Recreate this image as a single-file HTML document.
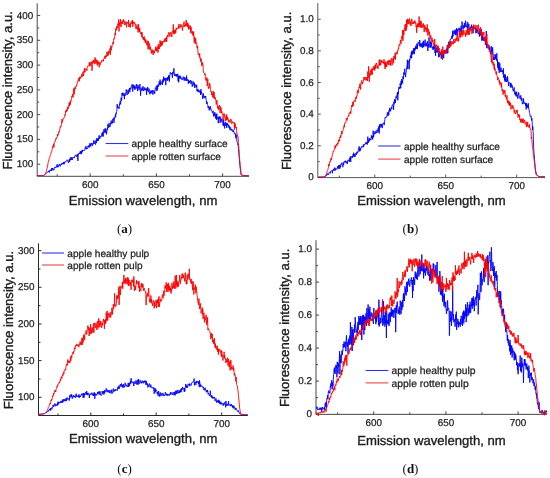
<!DOCTYPE html>
<html><head><meta charset="utf-8"><style>
html,body{margin:0;padding:0;background:#fff;}
svg{display:block;}
text{text-rendering:geometricPrecision;}
.t{font-family:"Liberation Sans",Arial,sans-serif;font-size:9.9px;fill:#1e1e1e;stroke:#1e1e1e;stroke-width:0.25px;}
.T{font-family:"Liberation Sans",Arial,sans-serif;font-size:13.1px;fill:#1c1c1c;stroke:#1c1c1c;stroke-width:0.35px;}
.L{font-family:"Liberation Sans",Arial,sans-serif;font-size:10.1px;fill:#1e1e1e;stroke:#1e1e1e;stroke-width:0.25px;}
.cap{font-family:"Liberation Serif","Times New Roman",serif;font-size:13px;fill:#111;}
</style></head><body>
<svg width="550" height="478" viewBox="0 0 550 478">
<rect width="550" height="478" fill="#fff"/>
<path d="M37.2,3.3V176.3H249.0" fill="none" stroke="#484848" stroke-width="1.0"/>
<path d="M90.2,176.3v-3" stroke="#484848" stroke-width="1"/>
<text x="90.2" y="188.0" class="t" text-anchor="middle">600</text>
<path d="M156.4,176.3v-3" stroke="#484848" stroke-width="1"/>
<text x="156.4" y="188.0" class="t" text-anchor="middle">650</text>
<path d="M222.6,176.3v-3" stroke="#484848" stroke-width="1"/>
<text x="222.6" y="188.0" class="t" text-anchor="middle">700</text>
<path d="M57.2,176.3v-2" stroke="#484848" stroke-width="1"/>
<path d="M123.3,176.3v-2" stroke="#484848" stroke-width="1"/>
<path d="M189.5,176.3v-2" stroke="#484848" stroke-width="1"/>
<path d="M37.2,164.2h3" stroke="#484848" stroke-width="1"/>
<text x="33.2" y="167.2" class="t" text-anchor="end">100</text>
<path d="M37.2,139.4h3" stroke="#484848" stroke-width="1"/>
<text x="33.2" y="142.4" class="t" text-anchor="end">150</text>
<path d="M37.2,114.6h3" stroke="#484848" stroke-width="1"/>
<text x="33.2" y="117.6" class="t" text-anchor="end">200</text>
<path d="M37.2,89.9h3" stroke="#484848" stroke-width="1"/>
<text x="33.2" y="92.9" class="t" text-anchor="end">250</text>
<path d="M37.2,65.1h3" stroke="#484848" stroke-width="1"/>
<text x="33.2" y="68.1" class="t" text-anchor="end">300</text>
<path d="M37.2,40.3h3" stroke="#484848" stroke-width="1"/>
<text x="33.2" y="43.3" class="t" text-anchor="end">350</text>
<path d="M37.2,15.5h3" stroke="#484848" stroke-width="1"/>
<text x="33.2" y="18.5" class="t" text-anchor="end">400</text>
<path d="M37.2,151.8h2" stroke="#484848" stroke-width="1"/>
<path d="M37.2,127.0h2" stroke="#484848" stroke-width="1"/>
<path d="M37.2,102.2h2" stroke="#484848" stroke-width="1"/>
<path d="M37.2,77.5h2" stroke="#484848" stroke-width="1"/>
<path d="M37.2,52.7h2" stroke="#484848" stroke-width="1"/>
<path d="M37.2,27.9h2" stroke="#484848" stroke-width="1"/>
<text x="143.1" y="204.8" class="T" text-anchor="middle">Emission wavelength, nm</text>
<text transform="translate(12.0,90.4) rotate(-90)" class="T" text-anchor="middle">Fluorescence intensity, a.u.</text>
<text x="124.6" y="232.5" class="cap" text-anchor="middle">(<tspan font-weight="bold">a</tspan>)</text>
<path d="M317.8,3.1V177.6H545.2" fill="none" stroke="#585858" stroke-width="1.0"/>
<path d="M374.8,177.6v-3" stroke="#585858" stroke-width="1"/>
<text x="374.8" y="189.3" class="t" text-anchor="middle">600</text>
<path d="M445.7,177.6v-3" stroke="#585858" stroke-width="1"/>
<text x="445.7" y="189.3" class="t" text-anchor="middle">650</text>
<path d="M516.7,177.6v-3" stroke="#585858" stroke-width="1"/>
<text x="516.7" y="189.3" class="t" text-anchor="middle">700</text>
<path d="M339.3,177.6v-2" stroke="#585858" stroke-width="1"/>
<path d="M410.2,177.6v-2" stroke="#585858" stroke-width="1"/>
<path d="M481.2,177.6v-2" stroke="#585858" stroke-width="1"/>
<path d="M317.8,177.4h3" stroke="#585858" stroke-width="1"/>
<text x="313.8" y="180.4" class="t" text-anchor="end">0</text>
<path d="M317.8,145.8h3" stroke="#585858" stroke-width="1"/>
<text x="313.8" y="148.8" class="t" text-anchor="end">0.2</text>
<path d="M317.8,114.1h3" stroke="#585858" stroke-width="1"/>
<text x="313.8" y="117.1" class="t" text-anchor="end">0.4</text>
<path d="M317.8,82.5h3" stroke="#585858" stroke-width="1"/>
<text x="313.8" y="85.5" class="t" text-anchor="end">0.6</text>
<path d="M317.8,50.8h3" stroke="#585858" stroke-width="1"/>
<text x="313.8" y="53.8" class="t" text-anchor="end">0.8</text>
<path d="M317.8,19.2h3" stroke="#585858" stroke-width="1"/>
<text x="313.8" y="22.2" class="t" text-anchor="end">1.0</text>
<path d="M317.8,161.6h2" stroke="#585858" stroke-width="1"/>
<path d="M317.8,129.9h2" stroke="#585858" stroke-width="1"/>
<path d="M317.8,98.3h2" stroke="#585858" stroke-width="1"/>
<path d="M317.8,66.7h2" stroke="#585858" stroke-width="1"/>
<path d="M317.8,35.0h2" stroke="#585858" stroke-width="1"/>
<text x="431.5" y="204.6" class="T" text-anchor="middle">Emission wavelength, nm</text>
<text transform="translate(290.5,90.9) rotate(-90)" class="T" text-anchor="middle">Fluorescence intensity, a.u.</text>
<text x="410.5" y="232.5" class="cap" text-anchor="middle">(<tspan font-weight="bold">b</tspan>)</text>
<path d="M38.5,243.4V415.5H247.8" fill="none" stroke="#282828" stroke-width="1.0"/>
<path d="M90.8,415.5v-3" stroke="#282828" stroke-width="1"/>
<text x="90.8" y="427.2" class="t" text-anchor="middle">600</text>
<path d="M156.2,415.5v-3" stroke="#282828" stroke-width="1"/>
<text x="156.2" y="427.2" class="t" text-anchor="middle">650</text>
<path d="M221.7,415.5v-3" stroke="#282828" stroke-width="1"/>
<text x="221.7" y="427.2" class="t" text-anchor="middle">700</text>
<path d="M58.0,415.5v-2" stroke="#282828" stroke-width="1"/>
<path d="M123.5,415.5v-2" stroke="#282828" stroke-width="1"/>
<path d="M188.9,415.5v-2" stroke="#282828" stroke-width="1"/>
<path d="M38.5,397.3h3" stroke="#282828" stroke-width="1"/>
<text x="34.5" y="400.3" class="t" text-anchor="end">100</text>
<path d="M38.5,360.6h3" stroke="#282828" stroke-width="1"/>
<text x="34.5" y="363.6" class="t" text-anchor="end">150</text>
<path d="M38.5,324.0h3" stroke="#282828" stroke-width="1"/>
<text x="34.5" y="327.0" class="t" text-anchor="end">200</text>
<path d="M38.5,287.3h3" stroke="#282828" stroke-width="1"/>
<text x="34.5" y="290.3" class="t" text-anchor="end">250</text>
<path d="M38.5,250.7h3" stroke="#282828" stroke-width="1"/>
<text x="34.5" y="253.7" class="t" text-anchor="end">300</text>
<path d="M38.5,379.0h2" stroke="#282828" stroke-width="1"/>
<path d="M38.5,342.3h2" stroke="#282828" stroke-width="1"/>
<path d="M38.5,305.7h2" stroke="#282828" stroke-width="1"/>
<path d="M38.5,269.0h2" stroke="#282828" stroke-width="1"/>
<text x="143.2" y="443.3" class="T" text-anchor="middle">Emission wavelength, nm</text>
<text transform="translate(12.7,330.1) rotate(-90)" class="T" text-anchor="middle">Fluorescence intensity, a.u.</text>
<text x="124.6" y="472.8" class="cap" text-anchor="middle">(<tspan font-weight="bold">c</tspan>)</text>
<path d="M316.0,240.2V414.35H547.0" fill="none" stroke="#444444" stroke-width="1.0"/>
<path d="M373.7,414.35v-3" stroke="#444444" stroke-width="1"/>
<text x="373.7" y="426.1" class="t" text-anchor="middle">600</text>
<path d="M445.9,414.35v-3" stroke="#444444" stroke-width="1"/>
<text x="445.9" y="426.1" class="t" text-anchor="middle">650</text>
<path d="M518.1,414.35v-3" stroke="#444444" stroke-width="1"/>
<text x="518.1" y="426.1" class="t" text-anchor="middle">700</text>
<path d="M337.6,414.35v-2" stroke="#444444" stroke-width="1"/>
<path d="M409.8,414.35v-2" stroke="#444444" stroke-width="1"/>
<path d="M482.0,414.35v-2" stroke="#444444" stroke-width="1"/>
<path d="M316.0,414.1h3" stroke="#444444" stroke-width="1"/>
<text x="312.0" y="417.1" class="t" text-anchor="end">0</text>
<path d="M316.0,381.1h3" stroke="#444444" stroke-width="1"/>
<text x="312.0" y="384.1" class="t" text-anchor="end">0.2</text>
<path d="M316.0,348.1h3" stroke="#444444" stroke-width="1"/>
<text x="312.0" y="351.1" class="t" text-anchor="end">0.4</text>
<path d="M316.0,315.1h3" stroke="#444444" stroke-width="1"/>
<text x="312.0" y="318.1" class="t" text-anchor="end">0.6</text>
<path d="M316.0,282.1h3" stroke="#444444" stroke-width="1"/>
<text x="312.0" y="285.1" class="t" text-anchor="end">0.8</text>
<path d="M316.0,249.1h3" stroke="#444444" stroke-width="1"/>
<text x="312.0" y="252.1" class="t" text-anchor="end">1.0</text>
<path d="M316.0,397.6h2" stroke="#444444" stroke-width="1"/>
<path d="M316.0,364.6h2" stroke="#444444" stroke-width="1"/>
<path d="M316.0,331.6h2" stroke="#444444" stroke-width="1"/>
<path d="M316.0,298.6h2" stroke="#444444" stroke-width="1"/>
<path d="M316.0,265.6h2" stroke="#444444" stroke-width="1"/>
<text x="431.5" y="444.6" class="T" text-anchor="middle">Emission wavelength, nm</text>
<text transform="translate(288.6,327.9) rotate(-90)" class="T" text-anchor="middle">Fluorescence intensity, a.u.</text>
<text x="410.5" y="472.8" class="cap" text-anchor="middle">(<tspan font-weight="bold">d</tspan>)</text>
<path d="M37.1,175.5 37.4,175.5 37.7,175.5 38.0,175.5 38.3,175.5 38.6,175.5 38.9,175.5 39.2,175.5 39.5,175.5 39.8,175.5 40.1,175.5 40.4,175.5 40.7,175.5 41.0,175.5 41.3,175.5 41.6,175.5 41.9,175.5 42.2,175.5 42.5,175.5 42.8,175.5 43.1,175.5 43.4,175.5 43.7,175.5 44.0,175.5 44.3,175.2 44.6,174.9 44.9,174.6 45.2,174.2 45.5,173.8 45.8,173.4 46.1,173.5 46.4,173.0 46.7,173.0 47.0,172.7 47.3,172.3 47.6,172.2 47.9,171.8 48.2,172.2 48.5,170.9 48.8,171.1 49.1,171.3 49.4,172.3 49.7,170.2 50.0,169.8 50.3,170.0 50.6,171.0 50.9,169.9 51.2,171.0 51.5,168.2 51.8,170.5 52.1,170.2 52.4,168.0 52.7,169.1 53.0,169.8 53.3,168.7 53.6,169.3 53.9,170.3 54.2,168.3 54.5,167.7 54.8,167.1 55.1,168.1 55.4,167.2 55.7,167.0 56.0,166.9 56.3,167.4 56.6,165.7 56.9,165.1 57.2,164.2 57.5,167.2 57.8,166.1 58.1,167.2 58.4,165.7 58.7,164.9 59.0,165.8 59.3,165.2 59.6,164.0 59.9,164.1 60.2,166.4 60.5,165.0 60.8,164.9 61.1,164.1 61.4,163.6 61.7,164.9 62.0,163.8 62.3,163.0 62.6,163.5 62.9,162.6 63.2,163.5 63.5,164.2 63.8,162.2 64.1,164.2 64.4,162.1 64.7,162.7 65.0,161.6 65.3,162.0 65.6,162.1 65.9,161.5 66.2,161.1 66.5,161.0 66.8,160.7 67.1,159.8 67.4,160.9 67.7,161.4 68.0,161.7 68.3,161.3 68.6,162.9 68.9,160.6 69.2,159.6 69.5,161.8 69.8,158.6 70.1,160.5 70.4,158.8 70.7,159.4 71.0,157.0 71.3,159.8 71.6,158.5 71.9,157.4 72.2,160.0 72.5,158.9 72.8,158.0 73.1,157.0 73.4,157.5 73.7,157.2 74.0,158.0 74.3,157.9 74.6,156.1 74.9,156.1 75.2,155.9 75.5,154.9 75.8,155.5 76.1,155.9 76.4,156.5 76.7,157.1 77.0,154.5 77.3,155.8 77.6,154.4 77.9,160.9 78.2,154.4 78.5,154.8 78.8,153.0 79.1,152.9 79.4,153.8 79.7,152.9 80.0,153.5 80.3,151.1 80.6,153.4 80.9,151.4 81.2,154.2 81.5,151.7 81.8,153.1 82.1,149.9 82.4,151.8 82.7,150.1 83.0,150.3 83.3,150.7 83.6,150.1 83.9,150.5 84.2,150.9 84.5,150.5 84.8,149.4 85.1,147.7 85.4,148.1 85.7,148.6 86.0,146.1 86.3,149.3 86.6,147.9 86.9,147.7 87.2,148.9 87.5,148.3 87.8,147.6 88.1,145.8 88.4,147.2 88.7,147.0 89.0,145.3 89.3,147.5 89.6,146.6 89.9,143.3 90.2,145.6 90.5,143.7 90.8,146.5 91.1,145.8 91.4,143.2 91.7,143.2 92.0,144.3 92.3,143.6 92.6,145.7 92.9,144.5 93.2,142.9 93.5,143.8 93.8,140.3 94.1,143.1 94.4,143.6 94.7,142.0 95.0,141.1 95.3,142.6 95.6,144.6 95.9,141.7 96.2,139.7 96.5,142.9 96.8,138.2 97.1,141.0 97.4,139.2 97.7,140.9 98.0,138.2 98.3,140.8 98.6,139.0 98.9,136.0 99.2,135.3 99.5,137.2 99.8,139.0 100.1,137.1 100.4,136.7 100.7,135.9 101.0,136.9 101.3,136.0 101.6,135.5 101.9,133.3 102.2,136.1 102.5,135.9 102.8,131.7 103.1,136.6 103.4,133.9 103.7,131.7 104.0,129.2 104.3,132.8 104.6,132.4 104.9,130.3 105.2,128.2 105.5,132.5 105.8,129.5 106.1,129.4 106.4,134.4 106.7,133.0 107.0,130.8 107.3,128.2 107.6,129.7 107.9,124.4 108.2,128.0 108.5,126.1 108.8,124.8 109.1,123.0 109.4,127.1 109.7,125.9 110.0,125.6 110.3,126.4 110.6,123.0 110.9,121.9 111.2,120.5 111.5,122.6 111.8,124.1 112.1,122.0 112.4,123.0 112.7,119.3 113.0,120.1 113.3,119.1 113.6,117.8 113.9,122.9 114.2,120.7 114.5,117.4 114.8,116.9 115.1,117.7 115.4,114.4 115.7,116.8 116.0,112.9 116.3,113.6 116.6,111.6 116.9,110.2 117.2,104.2 117.5,108.0 117.8,105.8 118.1,107.7 118.4,107.4 118.7,107.1 119.0,108.8 119.3,106.6 119.6,103.7 119.9,104.5 120.2,101.1 120.5,104.2 120.8,101.8 121.1,97.7 121.4,100.7 121.7,100.0 122.0,93.0 122.3,95.7 122.6,95.5 122.9,92.6 123.2,93.8 123.5,93.7 123.8,96.0 124.1,95.3 124.4,99.2 124.7,93.5 125.0,96.0 125.3,93.8 125.6,93.9 125.9,92.9 126.2,89.5 126.5,91.3 126.8,93.8 127.1,95.0 127.4,93.0 127.7,92.6 128.0,89.9 128.3,93.9 128.6,93.4 128.9,89.7 129.2,90.2 129.5,88.1 129.8,92.2 130.1,89.9 130.4,87.7 130.7,89.1 131.0,88.8 131.3,86.9 131.6,85.3 131.9,85.2 132.2,84.4 132.5,88.4 132.8,91.5 133.1,84.5 133.4,87.8 133.7,88.3 134.0,85.8 134.3,87.9 134.6,85.6 134.9,89.8 135.2,86.5 135.5,87.7 135.8,88.7 136.1,86.6 136.4,84.0 136.7,86.2 137.0,88.4 137.3,86.8 137.6,91.1 137.9,84.8 138.2,87.0 138.5,87.9 138.8,86.6 139.1,90.1 139.4,86.4 139.7,85.0 140.0,84.1 140.3,89.3 140.6,95.6 140.9,89.3 141.2,88.5 141.5,90.7 141.8,90.2 142.1,87.4 142.4,88.7 142.7,90.4 143.0,86.3 143.3,89.5 143.6,91.1 143.9,90.8 144.2,88.8 144.5,89.9 144.8,87.4 145.1,89.7 145.4,88.7 145.7,90.1 146.0,89.2 146.3,90.8 146.6,94.8 146.9,88.2 147.2,91.1 147.5,87.2 147.8,87.0 148.1,90.9 148.4,91.3 148.7,92.2 149.0,88.5 149.3,91.6 149.6,92.1 149.9,94.3 150.2,91.9 150.5,93.2 150.8,90.6 151.1,91.9 151.4,91.3 151.7,93.3 152.0,90.0 152.3,90.2 152.6,92.6 152.9,94.7 153.2,92.0 153.5,91.7 153.8,90.3 154.1,92.8 154.4,91.7 154.7,93.7 155.0,90.9 155.3,88.1 155.6,88.4 155.9,87.3 156.2,86.4 156.5,90.6 156.8,89.4 157.1,85.3 157.4,90.4 157.7,87.2 158.0,84.6 158.3,86.7 158.6,85.5 158.9,83.9 159.2,81.5 159.5,84.9 159.8,85.1 160.1,79.6 160.4,85.1 160.7,85.0 161.0,82.7 161.3,83.5 161.6,82.6 161.9,81.3 162.2,81.9 162.5,84.8 162.8,79.4 163.1,82.3 163.4,81.9 163.7,76.6 164.0,80.3 164.3,78.2 164.6,79.0 164.9,80.4 165.2,80.7 165.5,78.2 165.8,85.2 166.1,78.3 166.4,79.3 166.7,78.4 167.0,77.8 167.3,80.7 167.6,77.2 167.9,80.3 168.2,79.7 168.5,75.4 168.8,79.0 169.1,75.6 169.4,81.7 169.7,75.6 170.0,74.3 170.3,72.3 170.6,73.2 170.9,74.4 171.2,73.5 171.5,73.0 171.8,73.9 172.1,74.8 172.4,77.8 172.7,71.9 173.0,73.9 173.3,73.1 173.6,72.0 173.9,68.3 174.2,73.0 174.5,76.0 174.8,74.3 175.1,73.8 175.4,76.1 175.7,75.6 176.0,74.8 176.3,76.1 176.6,74.0 176.9,76.9 177.2,76.7 177.5,75.2 177.8,73.8 178.1,81.1 178.4,76.6 178.7,82.3 179.0,75.5 179.3,78.5 179.6,76.2 179.9,77.6 180.2,78.9 180.5,75.9 180.8,77.4 181.1,78.1 181.4,78.1 181.7,79.2 182.0,80.1 182.3,79.9 182.6,79.0 182.9,78.0 183.2,76.6 183.5,77.5 183.8,79.4 184.1,80.4 184.4,78.6 184.7,77.1 185.0,80.7 185.3,78.2 185.6,78.4 185.9,79.5 186.2,80.9 186.5,75.6 186.8,78.2 187.1,80.8 187.4,79.9 187.7,79.1 188.0,79.9 188.3,83.7 188.6,80.3 188.9,82.7 189.2,83.0 189.5,80.8 189.8,82.6 190.1,81.1 190.4,80.9 190.7,80.1 191.0,84.1 191.3,81.8 191.6,81.7 191.9,80.9 192.2,86.7 192.5,85.0 192.8,83.6 193.1,82.9 193.4,81.6 193.7,84.7 194.0,85.6 194.3,82.7 194.6,87.9 194.9,87.5 195.2,84.5 195.5,85.5 195.8,86.1 196.1,87.5 196.4,87.3 196.7,84.8 197.0,91.1 197.3,89.3 197.6,91.4 197.9,91.8 198.2,89.4 198.5,90.3 198.8,91.9 199.1,92.4 199.4,91.0 199.7,90.5 200.0,92.1 200.3,90.8 200.6,94.9 200.9,89.2 201.2,93.7 201.5,91.9 201.8,93.2 202.1,94.5 202.4,95.6 202.7,99.0 203.0,96.2 203.3,93.4 203.6,96.8 203.9,95.8 204.2,98.1 204.5,96.3 204.8,96.7 205.1,97.4 205.4,97.6 205.7,96.0 206.0,98.9 206.3,100.8 206.6,103.8 206.9,101.6 207.2,102.1 207.5,104.6 207.8,105.2 208.1,107.9 208.4,106.6 208.7,106.2 209.0,109.4 209.3,110.4 209.6,107.3 209.9,109.2 210.2,106.2 210.5,109.1 210.8,108.5 211.1,110.1 211.4,110.0 211.7,110.9 212.0,111.4 212.3,112.9 212.6,112.8 212.9,111.7 213.2,110.8 213.5,115.8 213.8,116.5 214.1,113.4 214.4,115.7 214.7,112.2 215.0,112.5 215.3,115.1 215.6,118.5 215.9,114.3 216.2,115.0 216.5,119.7 216.8,113.6 217.1,118.5 217.4,118.5 217.7,117.6 218.0,118.6 218.3,123.2 218.6,116.8 218.9,118.6 219.2,119.0 219.5,118.4 219.8,116.3 220.1,122.9 220.4,120.7 220.7,117.4 221.0,120.5 221.3,121.7 221.6,121.9 221.9,118.9 222.2,121.5 222.5,122.3 222.8,122.8 223.1,125.3 223.4,119.4 223.7,125.9 224.0,123.3 224.3,126.3 224.6,128.4 224.9,123.4 225.2,121.8 225.5,125.6 225.8,124.0 226.1,123.8 226.4,122.8 226.7,127.9 227.0,124.5 227.3,123.1 227.6,125.0 227.9,124.0 228.2,126.4 228.5,125.7 228.8,124.9 229.1,128.0 229.4,126.2 229.7,128.8 230.0,130.0 230.3,127.6 230.6,127.4 230.9,129.1 231.2,130.6 231.5,129.4 231.8,129.0 232.1,130.0 232.4,130.8 232.7,131.6 233.0,129.7 233.3,130.5 233.6,131.9 233.9,131.3 234.2,133.1 234.5,134.2 234.8,133.8 235.1,133.4 235.4,133.6 235.7,138.2 236.0,137.3 236.3,134.7 236.6,136.1 236.9,141.2 237.2,142.2 237.5,143.3 237.8,144.8 238.1,144.3 238.4,148.3 238.7,152.1 239.0,154.5 239.3,158.4 239.6,162.2 239.9,165.6 240.2,168.2 240.5,170.3 240.8,172.5 241.1,174.7 241.4,174.8 241.7,174.9 242.0,175.0 242.3,175.1 242.6,175.3 242.9,175.4 243.2,175.5 243.5,175.6 243.8,175.6 244.1,175.6 244.4,175.6 244.7,175.6 245.0,175.6 245.3,175.6 245.6,175.6 245.9,175.6 246.2,175.6 246.5,175.6 246.8,175.6 247.1,175.6 247.4,175.6 247.7,175.6 248.0,175.6 248.3,175.6 248.6,175.6 248.9,175.6" fill="none" stroke="#0000ff" stroke-width="0.9" stroke-linejoin="miter" stroke-miterlimit="4"/>
<path d="M37.1,175.5 37.4,175.5 37.7,175.5 38.0,175.5 38.3,175.5 38.6,175.5 38.9,175.5 39.2,175.5 39.5,175.5 39.8,175.5 40.1,175.5 40.4,175.5 40.7,175.5 41.0,175.5 41.3,175.5 41.6,175.5 41.9,175.5 42.2,175.5 42.5,175.5 42.8,175.5 43.1,175.5 43.4,175.5 43.7,175.5 44.0,175.5 44.3,175.0 44.6,174.6 44.9,174.1 45.2,173.6 45.5,173.2 45.8,172.7 46.1,172.1 46.4,170.2 46.7,169.2 47.0,168.9 47.3,167.2 47.6,166.0 47.9,164.2 48.2,162.3 48.5,161.1 48.8,161.0 49.1,158.8 49.4,158.2 49.7,157.7 50.0,155.8 50.3,155.5 50.6,154.7 50.9,153.6 51.2,152.0 51.5,152.1 51.8,151.3 52.1,149.7 52.4,147.5 52.7,148.0 53.0,145.9 53.3,146.6 53.6,143.9 53.9,147.5 54.2,142.8 54.5,141.6 54.8,141.9 55.1,141.6 55.4,141.2 55.7,139.2 56.0,138.3 56.3,139.1 56.6,137.6 56.9,137.7 57.2,137.5 57.5,134.0 57.8,135.3 58.1,135.6 58.4,133.1 58.7,131.7 59.0,132.7 59.3,131.3 59.6,131.3 59.9,129.0 60.2,126.7 60.5,127.3 60.8,125.9 61.1,126.3 61.4,124.6 61.7,121.5 62.0,119.2 62.3,122.5 62.6,121.3 62.9,118.8 63.2,118.9 63.5,118.8 63.8,118.1 64.1,118.0 64.4,116.5 64.7,115.4 65.0,114.5 65.3,115.5 65.6,110.7 65.9,111.1 66.2,112.2 66.5,109.7 66.8,111.2 67.1,109.2 67.4,110.4 67.7,106.7 68.0,108.6 68.3,108.6 68.6,106.7 68.9,104.3 69.2,102.7 69.5,106.3 69.8,103.0 70.1,101.5 70.4,104.6 70.7,100.6 71.0,101.2 71.3,99.1 71.6,98.2 71.9,96.3 72.2,97.1 72.5,94.1 72.8,95.5 73.1,97.4 73.4,90.7 73.7,88.5 74.0,94.5 74.3,94.3 74.6,88.5 74.9,87.4 75.2,89.4 75.5,86.6 75.8,86.4 76.1,85.9 76.4,86.5 76.7,84.4 77.0,84.7 77.3,83.2 77.6,81.5 77.9,81.5 78.2,79.8 78.5,80.5 78.8,78.0 79.1,81.4 79.4,81.2 79.7,76.8 80.0,78.1 80.3,78.6 80.6,76.7 80.9,76.7 81.2,77.4 81.5,76.8 81.8,74.1 82.1,76.9 82.4,74.3 82.7,73.1 83.0,72.2 83.3,73.2 83.6,76.0 83.9,70.9 84.2,72.5 84.5,68.2 84.8,71.2 85.1,72.1 85.4,69.7 85.7,68.5 86.0,69.4 86.3,69.6 86.6,69.0 86.9,70.7 87.2,67.5 87.5,65.9 87.8,66.4 88.1,66.2 88.4,66.2 88.7,65.7 89.0,65.7 89.3,62.3 89.6,66.2 89.9,63.5 90.2,62.2 90.5,65.0 90.8,65.8 91.1,64.3 91.4,63.6 91.7,61.7 92.0,70.7 92.3,64.5 92.6,61.0 92.9,61.4 93.2,62.8 93.5,59.9 93.8,62.7 94.1,61.5 94.4,64.2 94.7,63.7 95.0,57.4 95.3,61.9 95.6,59.1 95.9,63.6 96.2,61.9 96.5,62.5 96.8,59.7 97.1,65.0 97.4,65.6 97.7,60.7 98.0,63.5 98.3,62.1 98.6,63.5 98.9,61.7 99.2,67.4 99.5,62.9 99.8,64.2 100.1,65.1 100.4,62.8 100.7,63.1 101.0,62.1 101.3,62.5 101.6,60.3 101.9,61.2 102.2,61.2 102.5,60.6 102.8,60.9 103.1,59.9 103.4,61.3 103.7,59.0 104.0,59.0 104.3,57.7 104.6,57.6 104.9,55.9 105.2,58.7 105.5,55.4 105.8,55.7 106.1,57.3 106.4,57.0 106.7,55.2 107.0,51.8 107.3,56.0 107.6,55.3 107.9,51.8 108.2,55.5 108.5,52.3 108.8,51.0 109.1,53.0 109.4,52.1 109.7,52.4 110.0,48.4 110.3,54.9 110.6,49.6 110.9,45.6 111.2,50.4 111.5,47.5 111.8,48.0 112.1,45.6 112.4,45.3 112.7,45.0 113.0,42.0 113.3,44.1 113.6,40.7 113.9,38.5 114.2,39.2 114.5,38.7 114.8,35.8 115.1,33.1 115.4,35.1 115.7,28.5 116.0,29.1 116.3,30.4 116.6,26.3 116.9,28.3 117.2,27.1 117.5,28.2 117.8,23.6 118.1,23.9 118.4,25.8 118.7,19.3 119.0,31.4 119.3,22.6 119.6,22.3 119.9,25.6 120.2,23.3 120.5,19.1 120.8,24.4 121.1,27.1 121.4,21.9 121.7,22.2 122.0,23.8 122.3,20.7 122.6,23.6 122.9,23.0 123.2,21.0 123.5,19.4 123.8,22.1 124.1,20.7 124.4,25.0 124.7,23.1 125.0,24.7 125.3,23.3 125.6,23.6 125.9,21.4 126.2,24.7 126.5,27.3 126.8,22.7 127.1,22.1 127.4,23.2 127.7,22.5 128.0,22.1 128.3,24.1 128.6,19.9 128.9,27.1 129.2,24.0 129.5,24.8 129.8,26.3 130.1,23.5 130.4,27.5 130.7,22.8 131.0,22.4 131.3,23.3 131.6,23.7 131.9,20.8 132.2,23.8 132.5,20.0 132.8,26.8 133.1,23.4 133.4,22.1 133.7,21.7 134.0,23.2 134.3,23.9 134.6,22.4 134.9,23.0 135.2,25.0 135.5,24.6 135.8,28.2 136.1,29.0 136.4,26.8 136.7,28.2 137.0,24.5 137.3,29.3 137.6,28.2 137.9,29.7 138.2,32.5 138.5,24.2 138.8,30.3 139.1,27.7 139.4,32.0 139.7,28.3 140.0,30.6 140.3,32.7 140.6,34.1 140.9,33.5 141.2,32.0 141.5,33.1 141.8,36.9 142.1,32.4 142.4,38.3 142.7,38.3 143.0,37.9 143.3,39.4 143.6,37.1 143.9,40.2 144.2,36.4 144.5,40.5 144.8,38.6 145.1,42.9 145.4,42.8 145.7,39.4 146.0,41.4 146.3,42.0 146.6,45.1 146.9,44.4 147.2,40.6 147.5,44.8 147.8,45.9 148.1,49.4 148.4,41.3 148.7,44.3 149.0,49.0 149.3,43.4 149.6,44.2 149.9,48.5 150.2,50.1 150.5,46.8 150.8,49.9 151.1,49.6 151.4,53.3 151.7,50.5 152.0,53.3 152.3,49.7 152.6,51.9 152.9,52.4 153.2,55.0 153.5,53.5 153.8,50.3 154.1,53.3 154.4,53.2 154.7,51.0 155.0,50.5 155.3,50.4 155.6,46.8 155.9,50.8 156.2,50.7 156.5,48.0 156.8,51.4 157.1,46.2 157.4,47.7 157.7,47.5 158.0,52.6 158.3,44.2 158.6,48.7 158.9,49.1 159.2,47.5 159.5,48.9 159.8,43.6 160.1,40.4 160.4,46.8 160.7,42.0 161.0,43.6 161.3,41.4 161.6,46.0 161.9,45.2 162.2,41.3 162.5,44.6 162.8,42.5 163.1,41.6 163.4,41.6 163.7,40.7 164.0,42.2 164.3,41.1 164.6,39.3 164.9,42.0 165.2,38.0 165.5,39.7 165.8,39.6 166.1,41.6 166.4,36.8 166.7,41.5 167.0,37.6 167.3,36.4 167.6,34.9 167.9,37.4 168.2,35.8 168.5,32.8 168.8,32.4 169.1,33.3 169.4,32.7 169.7,36.2 170.0,36.6 170.3,34.8 170.6,33.9 170.9,31.9 171.2,32.7 171.5,34.3 171.8,36.9 172.1,33.9 172.4,31.0 172.7,31.4 173.0,30.0 173.3,24.4 173.6,33.5 173.9,30.8 174.2,34.2 174.5,30.0 174.8,32.7 175.1,33.5 175.4,29.6 175.7,32.9 176.0,30.7 176.3,28.0 176.6,29.4 176.9,28.7 177.2,28.0 177.5,27.9 177.8,28.5 178.1,29.0 178.4,25.9 178.7,27.7 179.0,24.0 179.3,27.7 179.6,28.2 179.9,26.9 180.2,26.9 180.5,27.3 180.8,24.2 181.1,24.8 181.4,26.2 181.7,27.0 182.0,25.4 182.3,29.9 182.6,30.6 182.9,26.2 183.2,26.9 183.5,23.8 183.8,22.4 184.1,21.6 184.4,24.7 184.7,26.9 185.0,25.1 185.3,25.0 185.6,23.8 185.9,26.0 186.2,20.0 186.5,25.4 186.8,25.3 187.1,22.4 187.4,27.2 187.7,23.0 188.0,23.9 188.3,24.0 188.6,29.4 188.9,25.3 189.2,29.0 189.5,29.1 189.8,28.7 190.1,25.5 190.4,27.3 190.7,32.9 191.0,26.9 191.3,28.5 191.6,30.6 191.9,33.7 192.2,32.8 192.5,34.5 192.8,31.0 193.1,36.1 193.4,35.9 193.7,31.9 194.0,40.0 194.3,42.7 194.6,36.8 194.9,39.7 195.2,43.7 195.5,38.3 195.8,38.2 196.1,43.6 196.4,43.4 196.7,42.9 197.0,48.1 197.3,48.3 197.6,45.9 197.9,51.0 198.2,54.9 198.5,54.4 198.8,54.9 199.1,53.7 199.4,56.9 199.7,53.6 200.0,58.6 200.3,57.8 200.6,61.6 200.9,61.2 201.2,58.8 201.5,62.6 201.8,66.1 202.1,62.0 202.4,64.3 202.7,63.2 203.0,64.4 203.3,71.0 203.6,72.6 203.9,72.8 204.2,72.7 204.5,73.1 204.8,74.9 205.1,73.8 205.4,78.5 205.7,79.8 206.0,80.5 206.3,78.1 206.6,80.4 206.9,77.5 207.2,86.0 207.5,83.1 207.8,79.1 208.1,84.9 208.4,88.9 208.7,86.9 209.0,88.1 209.3,86.9 209.6,83.1 209.9,84.1 210.2,86.1 210.5,89.4 210.8,91.2 211.1,92.0 211.4,91.3 211.7,95.0 212.0,93.0 212.3,92.9 212.6,97.1 212.9,94.1 213.2,91.0 213.5,95.3 213.8,98.3 214.1,92.1 214.4,98.3 214.7,98.9 215.0,97.1 215.3,97.5 215.6,100.1 215.9,100.5 216.2,104.6 216.5,103.3 216.8,99.9 217.1,101.9 217.4,105.5 217.7,108.4 218.0,105.9 218.3,106.3 218.6,109.8 218.9,106.7 219.2,106.6 219.5,105.0 219.8,107.3 220.1,113.0 220.4,106.6 220.7,110.8 221.0,107.7 221.3,111.1 221.6,113.1 221.9,111.4 222.2,113.6 222.5,113.9 222.8,113.8 223.1,119.6 223.4,115.2 223.7,113.7 224.0,113.4 224.3,113.5 224.6,116.3 224.9,115.3 225.2,121.0 225.5,119.7 225.8,116.4 226.1,116.5 226.4,120.3 226.7,114.5 227.0,117.2 227.3,119.9 227.6,117.1 227.9,118.1 228.2,118.6 228.5,122.1 228.8,120.0 229.1,120.8 229.4,121.4 229.7,120.7 230.0,122.7 230.3,120.0 230.6,119.1 230.9,118.9 231.2,119.4 231.5,121.2 231.8,123.8 232.1,122.8 232.4,121.9 232.7,121.5 233.0,122.5 233.3,122.9 233.6,122.9 233.9,122.0 234.2,123.5 234.5,129.6 234.8,122.9 235.1,126.0 235.4,124.6 235.7,128.0 236.0,127.7 236.3,127.0 236.6,130.4 236.9,133.9 237.2,133.7 237.5,136.4 237.8,136.8 238.1,136.5 238.4,142.3 238.7,145.8 239.0,149.4 239.3,155.1 239.6,158.7 239.9,161.6 240.2,165.2 240.5,168.1 240.8,171.4 241.1,174.7 241.4,174.8 241.7,174.9 242.0,175.0 242.3,175.1 242.6,175.3 242.9,175.4 243.2,175.5 243.5,175.6 243.8,175.6 244.1,175.6 244.4,175.6 244.7,175.6 245.0,175.6 245.3,175.6 245.6,175.6 245.9,175.6 246.2,175.6 246.5,175.6 246.8,175.6 247.1,175.6 247.4,175.6 247.7,175.6 248.0,175.6 248.3,175.6 248.6,175.6 248.9,175.6" fill="none" stroke="#ff0000" stroke-width="0.9" stroke-linejoin="miter" stroke-miterlimit="4"/>
<path d="M318.0,177.2 318.3,177.2 318.6,177.2 318.9,177.1 319.2,177.1 319.5,177.1 319.8,177.1 320.1,177.1 320.4,177.1 320.7,177.0 321.0,177.0 321.3,177.0 321.6,177.0 321.9,177.0 322.2,177.0 322.5,176.9 322.8,176.9 323.1,176.9 323.4,176.9 323.7,176.9 324.0,176.9 324.3,176.8 324.6,176.8 324.9,176.8 325.2,176.6 325.5,176.1 325.8,176.0 326.1,175.5 326.4,175.8 326.7,174.4 327.0,174.8 327.3,174.8 327.6,173.6 327.9,174.9 328.2,174.1 328.5,174.5 328.8,174.3 329.1,172.3 329.4,172.1 329.7,172.5 330.0,173.3 330.3,173.2 330.6,171.2 330.9,171.1 331.2,170.7 331.5,170.8 331.8,170.9 332.1,170.9 332.4,173.2 332.7,170.0 333.0,170.1 333.3,170.7 333.6,168.9 333.9,169.4 334.2,169.6 334.5,170.3 334.8,167.6 335.1,170.6 335.4,168.4 335.7,168.8 336.0,169.4 336.3,169.0 336.6,169.3 336.9,168.1 337.2,167.7 337.5,167.9 337.8,166.1 338.1,168.6 338.4,166.1 338.7,165.3 339.0,169.1 339.3,166.3 339.6,164.9 339.9,168.4 340.2,165.5 340.5,167.1 340.8,164.6 341.1,165.1 341.4,163.2 341.7,162.7 342.0,163.6 342.3,164.5 342.6,165.4 342.9,167.2 343.2,162.6 343.5,165.0 343.8,162.7 344.1,163.1 344.4,161.2 344.7,160.9 345.0,161.6 345.3,160.8 345.6,162.1 345.9,161.0 346.2,163.2 346.5,161.6 346.8,161.4 347.1,162.4 347.4,164.0 347.7,160.5 348.0,160.1 348.3,159.8 348.6,161.1 348.9,160.4 349.2,159.6 349.5,161.8 349.8,157.9 350.1,159.0 350.4,156.2 350.7,162.0 351.0,157.6 351.3,157.4 351.6,157.7 351.9,156.6 352.2,156.0 352.5,157.7 352.8,156.0 353.1,154.3 353.4,155.9 353.7,152.7 354.0,157.0 354.3,154.2 354.6,154.2 354.9,157.0 355.2,156.6 355.5,153.5 355.8,153.9 356.1,154.3 356.4,154.8 356.7,152.1 357.0,152.2 357.3,153.4 357.6,151.6 357.9,152.2 358.2,151.7 358.5,149.0 358.8,149.1 359.1,146.4 359.4,149.4 359.7,151.4 360.0,147.6 360.3,150.6 360.6,150.0 360.9,148.2 361.2,148.0 361.5,147.8 361.8,146.1 362.1,146.7 362.4,146.7 362.7,147.3 363.0,147.3 363.3,144.8 363.6,146.7 363.9,144.1 364.2,144.7 364.5,145.2 364.8,144.3 365.1,143.8 365.4,144.1 365.7,142.6 366.0,142.1 366.3,142.4 366.6,143.8 366.9,141.9 367.2,144.6 367.5,141.8 367.8,136.7 368.1,140.1 368.4,142.9 368.7,140.2 369.0,140.8 369.3,138.2 369.6,141.2 369.9,140.3 370.2,139.5 370.5,138.8 370.8,140.0 371.1,138.8 371.4,135.4 371.7,138.1 372.0,136.8 372.3,136.1 372.6,139.5 372.9,135.6 373.2,130.7 373.5,137.3 373.8,136.2 374.1,134.1 374.4,133.3 374.7,133.9 375.0,131.3 375.3,133.4 375.6,133.6 375.9,131.7 376.2,130.5 376.5,130.5 376.8,133.0 377.1,133.0 377.4,131.4 377.7,130.2 378.0,128.4 378.3,130.6 378.6,131.6 378.9,126.1 379.2,133.4 379.5,124.4 379.8,126.9 380.1,127.7 380.4,124.4 380.7,123.8 381.0,126.1 381.3,126.9 381.6,124.2 381.9,126.9 382.2,128.1 382.5,126.9 382.8,123.6 383.1,123.4 383.4,123.7 383.7,122.7 384.0,124.8 384.3,124.9 384.6,121.4 384.9,119.5 385.2,117.0 385.5,117.2 385.8,118.0 386.1,117.2 386.4,116.8 386.7,116.3 387.0,116.6 387.3,112.5 387.6,112.5 387.9,116.1 388.2,115.0 388.5,111.7 388.8,114.8 389.1,110.2 389.4,110.5 389.7,107.9 390.0,111.6 390.3,109.2 390.6,110.9 390.9,109.5 391.2,107.6 391.5,107.2 391.8,108.8 392.1,105.3 392.4,104.7 392.7,104.6 393.0,105.6 393.3,105.3 393.6,109.8 393.9,101.9 394.2,104.3 394.5,99.3 394.8,101.6 395.1,99.8 395.4,102.9 395.7,99.6 396.0,96.5 396.3,98.2 396.6,97.0 396.9,94.8 397.2,94.1 397.5,91.9 397.8,100.3 398.1,92.9 398.4,94.1 398.7,87.8 399.0,87.0 399.3,88.4 399.6,87.5 399.9,89.0 400.2,83.4 400.5,86.5 400.8,88.0 401.1,80.9 401.4,84.8 401.7,79.1 402.0,81.6 402.3,80.8 402.6,83.5 402.9,76.4 403.2,77.8 403.5,79.2 403.8,72.6 404.1,74.8 404.4,71.7 404.7,68.8 405.0,74.0 405.3,73.2 405.6,77.1 405.9,73.2 406.2,72.1 406.5,67.6 406.8,66.4 407.1,66.7 407.4,59.8 407.7,69.1 408.0,62.3 408.3,60.6 408.6,61.3 408.9,64.0 409.2,69.2 409.5,59.2 409.8,60.6 410.1,58.7 410.4,55.6 410.7,57.9 411.0,56.9 411.3,52.2 411.6,58.3 411.9,50.8 412.2,54.8 412.5,50.8 412.8,50.8 413.1,50.6 413.4,53.6 413.7,48.1 414.0,50.3 414.3,54.2 414.6,47.9 414.9,49.1 415.2,50.3 415.5,46.6 415.8,48.8 416.1,45.5 416.4,48.6 416.7,46.5 417.0,43.5 417.3,49.1 417.6,44.8 417.9,43.9 418.2,41.9 418.5,42.6 418.8,43.3 419.1,43.9 419.4,46.2 419.7,40.0 420.0,42.4 420.3,46.3 420.6,43.7 420.9,44.2 421.2,47.2 421.5,43.9 421.8,44.3 422.1,43.1 422.4,47.8 422.7,46.1 423.0,41.7 423.3,47.2 423.6,40.8 423.9,46.6 424.2,45.6 424.5,43.6 424.8,43.0 425.1,39.6 425.4,46.2 425.7,44.0 426.0,43.6 426.3,46.3 426.6,42.8 426.9,43.1 427.2,42.9 427.5,41.3 427.8,51.0 428.1,44.4 428.4,44.1 428.7,47.4 429.0,37.3 429.3,45.6 429.6,46.0 429.9,46.8 430.2,47.7 430.5,41.6 430.8,47.1 431.1,47.2 431.4,41.9 431.7,44.2 432.0,47.7 432.3,48.3 432.6,47.0 432.9,49.8 433.2,49.8 433.5,46.0 433.8,49.3 434.1,49.4 434.4,44.7 434.7,44.0 435.0,53.0 435.3,50.2 435.6,55.8 435.9,47.2 436.2,50.2 436.5,52.2 436.8,51.2 437.1,47.8 437.4,52.4 437.7,50.6 438.0,46.4 438.3,50.2 438.6,57.2 438.9,55.0 439.2,56.8 439.5,51.9 439.8,53.2 440.1,51.6 440.4,55.1 440.7,54.4 441.0,55.4 441.3,58.8 441.6,52.3 441.9,56.3 442.2,50.9 442.5,57.4 442.8,53.9 443.1,54.4 443.4,54.6 443.7,58.2 444.0,53.6 444.3,52.1 444.6,50.1 444.9,53.5 445.2,50.3 445.5,50.9 445.8,51.5 446.1,52.7 446.4,48.6 446.7,51.5 447.0,53.7 447.3,44.8 447.6,51.5 447.9,52.9 448.2,45.2 448.5,47.5 448.8,41.7 449.1,45.3 449.4,42.9 449.7,44.2 450.0,39.9 450.3,39.5 450.6,39.9 450.9,38.6 451.2,38.2 451.5,38.6 451.8,35.7 452.1,37.5 452.4,38.5 452.7,30.7 453.0,36.5 453.3,33.5 453.6,31.9 453.9,30.7 454.2,31.6 454.5,31.6 454.8,34.1 455.1,29.6 455.4,35.2 455.7,30.2 456.0,33.7 456.3,34.4 456.6,28.2 456.9,33.8 457.2,36.4 457.5,29.4 457.8,31.7 458.1,29.6 458.4,29.9 458.7,28.9 459.0,27.8 459.3,30.7 459.6,30.8 459.9,28.3 460.2,32.0 460.5,30.7 460.8,29.8 461.1,25.8 461.4,32.3 461.7,30.6 462.0,21.6 462.3,24.0 462.6,25.5 462.9,28.9 463.2,29.5 463.5,25.4 463.8,26.6 464.1,27.8 464.4,22.9 464.7,27.7 465.0,25.5 465.3,26.8 465.6,20.7 465.9,23.5 466.2,24.1 466.5,26.8 466.8,27.1 467.1,26.2 467.4,29.6 467.7,22.0 468.0,24.0 468.3,26.3 468.6,26.8 468.9,24.2 469.2,30.4 469.5,28.8 469.8,30.2 470.1,29.0 470.4,27.0 470.7,30.0 471.0,26.7 471.3,27.9 471.6,24.7 471.9,27.5 472.2,26.4 472.5,28.1 472.8,31.8 473.1,33.2 473.4,29.7 473.7,26.9 474.0,29.5 474.3,28.4 474.6,26.6 474.9,28.4 475.2,28.3 475.5,27.7 475.8,33.2 476.1,28.6 476.4,29.1 476.7,32.6 477.0,29.4 477.3,28.6 477.6,29.7 477.9,33.5 478.2,33.6 478.5,33.8 478.8,32.2 479.1,31.4 479.4,36.5 479.7,30.8 480.0,34.4 480.3,31.9 480.6,34.6 480.9,35.6 481.2,29.5 481.5,29.4 481.8,40.6 482.1,35.2 482.4,38.6 482.7,40.3 483.0,36.6 483.3,38.7 483.6,40.6 483.9,39.4 484.2,38.2 484.5,40.9 484.8,41.1 485.1,37.3 485.4,45.0 485.7,42.5 486.0,36.2 486.3,31.0 486.6,47.8 486.9,47.9 487.2,45.0 487.5,44.2 487.8,44.7 488.1,48.5 488.4,47.3 488.7,45.9 489.0,45.3 489.3,49.8 489.6,47.3 489.9,49.5 490.2,50.4 490.5,53.8 490.8,50.6 491.1,46.1 491.4,46.5 491.7,54.4 492.0,54.4 492.3,52.5 492.6,47.3 492.9,52.1 493.2,54.2 493.5,59.9 493.8,57.3 494.1,57.6 494.4,58.1 494.7,59.9 495.0,54.1 495.3,59.0 495.6,55.0 495.9,57.9 496.2,58.4 496.5,60.2 496.8,53.3 497.1,61.4 497.4,59.7 497.7,67.6 498.0,61.8 498.3,69.9 498.6,68.3 498.9,62.2 499.2,72.8 499.5,67.7 499.8,63.4 500.1,69.0 500.4,72.1 500.7,69.7 501.0,67.6 501.3,70.0 501.6,71.7 501.9,70.9 502.2,70.5 502.5,72.0 502.8,70.7 503.1,74.2 503.4,68.4 503.7,77.7 504.0,75.1 504.3,76.5 504.6,80.4 504.9,74.0 505.2,81.9 505.5,75.3 505.8,79.2 506.1,79.4 506.4,82.0 506.7,79.8 507.0,77.4 507.3,81.5 507.6,76.3 507.9,81.3 508.2,81.2 508.5,85.8 508.8,82.5 509.1,82.5 509.4,82.3 509.7,82.6 510.0,83.6 510.3,87.4 510.6,82.9 510.9,85.6 511.2,83.5 511.5,86.5 511.8,87.6 512.1,85.2 512.4,87.0 512.7,88.7 513.0,90.5 513.3,91.3 513.6,89.6 513.9,88.2 514.2,87.4 514.5,92.5 514.8,94.1 515.1,92.5 515.4,95.3 515.7,91.7 516.0,92.2 516.3,96.5 516.6,91.8 516.9,95.4 517.2,95.3 517.5,95.2 517.8,98.7 518.1,94.0 518.4,94.4 518.7,92.4 519.0,94.8 519.3,97.4 519.6,96.8 519.9,97.5 520.2,98.9 520.5,97.4 520.8,95.3 521.1,99.7 521.4,100.6 521.7,97.9 522.0,99.0 522.3,104.2 522.6,103.2 522.9,103.6 523.2,103.2 523.5,98.5 523.8,101.5 524.1,103.9 524.4,102.7 524.7,102.6 525.0,103.7 525.3,103.8 525.6,105.9 525.9,102.8 526.2,109.5 526.5,103.3 526.8,104.7 527.1,107.5 527.4,104.9 527.7,106.3 528.0,108.0 528.3,103.3 528.6,108.5 528.9,108.4 529.2,110.5 529.5,112.6 529.8,113.6 530.1,115.9 530.4,116.7 530.7,116.8 531.0,115.8 531.3,118.6 531.6,120.4 531.9,118.3 532.2,122.8 532.5,129.8 532.8,126.6 533.1,131.7 533.4,139.6 533.7,147.3 534.0,153.2 534.3,155.6 534.6,159.8 534.9,163.9 535.2,167.6 535.5,169.9 535.8,171.3 536.1,172.8 536.4,174.2 536.7,174.9 537.0,175.1 537.3,175.3 537.6,175.6 537.9,175.8 538.2,176.0 538.5,176.3 538.8,176.5 539.1,176.6 539.4,176.6 539.7,176.6 540.0,176.6 540.3,176.6 540.6,176.6 540.9,176.6 541.2,176.6 541.5,176.6 541.8,176.6 542.1,176.6 542.4,176.6 542.7,176.6 543.0,176.6 543.3,176.6 543.6,176.6 543.9,176.6 544.2,176.6 544.5,176.6 544.8,176.6" fill="none" stroke="#0000ff" stroke-width="0.9" stroke-linejoin="miter" stroke-miterlimit="4"/>
<path d="M318.0,177.2 318.3,177.2 318.6,177.2 318.9,177.1 319.2,177.1 319.5,177.1 319.8,177.1 320.1,177.1 320.4,177.1 320.7,177.0 321.0,177.0 321.3,177.0 321.6,177.0 321.9,177.0 322.2,177.0 322.5,176.9 322.8,176.9 323.1,176.9 323.4,176.9 323.7,176.9 324.0,176.9 324.3,176.8 324.6,176.8 324.9,176.8 325.2,176.1 325.5,175.6 325.8,175.2 326.1,174.2 326.4,173.5 326.7,173.3 327.0,171.8 327.3,171.0 327.6,170.6 327.9,169.5 328.2,168.2 328.5,167.6 328.8,164.1 329.1,166.0 329.4,163.4 329.7,161.7 330.0,162.4 330.3,161.9 330.6,159.8 330.9,158.1 331.2,158.2 331.5,160.1 331.8,157.6 332.1,156.0 332.4,154.4 332.7,154.4 333.0,152.2 333.3,151.4 333.6,151.8 333.9,151.1 334.2,149.7 334.5,148.5 334.8,148.9 335.1,145.4 335.4,148.2 335.7,147.3 336.0,145.4 336.3,145.8 336.6,144.2 336.9,145.6 337.2,144.6 337.5,142.8 337.8,144.1 338.1,144.1 338.4,139.9 338.7,141.3 339.0,141.5 339.3,139.5 339.6,141.1 339.9,137.0 340.2,137.9 340.5,135.4 340.8,137.3 341.1,134.8 341.4,133.5 341.7,131.0 342.0,134.2 342.3,132.2 342.6,131.4 342.9,131.1 343.2,129.3 343.5,127.3 343.8,126.3 344.1,125.4 344.4,127.3 344.7,123.0 345.0,123.2 345.3,122.8 345.6,122.6 345.9,122.7 346.2,119.3 346.5,118.0 346.8,119.5 347.1,120.4 347.4,119.1 347.7,117.7 348.0,116.3 348.3,116.4 348.6,115.0 348.9,115.7 349.2,112.9 349.5,113.4 349.8,112.4 350.1,112.5 350.4,111.4 350.7,113.8 351.0,111.6 351.3,107.6 351.6,105.3 351.9,106.9 352.2,105.8 352.5,106.6 352.8,101.9 353.1,106.0 353.4,105.1 353.7,101.1 354.0,100.7 354.3,100.2 354.6,100.6 354.9,100.6 355.2,101.9 355.5,97.8 355.8,98.5 356.1,96.8 356.4,98.5 356.7,96.1 357.0,96.3 357.3,91.4 357.6,92.0 357.9,90.0 358.2,93.2 358.5,90.8 358.8,88.2 359.1,87.0 359.4,87.9 359.7,84.8 360.0,83.6 360.3,85.9 360.6,89.5 360.9,83.8 361.2,82.7 361.5,81.1 361.8,80.3 362.1,83.9 362.4,84.2 362.7,82.0 363.0,82.4 363.3,81.5 363.6,81.2 363.9,77.0 364.2,79.1 364.5,80.1 364.8,77.7 365.1,78.1 365.4,77.0 365.7,77.9 366.0,80.4 366.3,77.1 366.6,77.4 366.9,80.2 367.2,78.7 367.5,80.9 367.8,71.5 368.1,78.0 368.4,74.2 368.7,66.3 369.0,76.2 369.3,81.8 369.6,75.5 369.9,72.7 370.2,75.7 370.5,70.5 370.8,70.3 371.1,72.2 371.4,68.7 371.7,74.9 372.0,71.9 372.3,74.3 372.6,68.7 372.9,67.6 373.2,68.6 373.5,69.7 373.8,66.2 374.1,68.2 374.4,67.0 374.7,70.6 375.0,64.9 375.3,68.9 375.6,64.6 375.9,63.7 376.2,64.2 376.5,62.9 376.8,65.9 377.1,67.9 377.4,65.7 377.7,66.6 378.0,68.9 378.3,65.5 378.6,65.1 378.9,63.7 379.2,60.2 379.5,65.6 379.8,59.3 380.1,64.8 380.4,62.9 380.7,65.3 381.0,62.1 381.3,60.0 381.6,62.6 381.9,60.5 382.2,61.8 382.5,62.7 382.8,62.6 383.1,62.9 383.4,61.7 383.7,63.6 384.0,59.3 384.3,64.5 384.6,62.3 384.9,68.3 385.2,69.1 385.5,61.6 385.8,66.9 386.1,65.9 386.4,63.4 386.7,66.9 387.0,64.2 387.3,60.7 387.6,64.1 387.9,64.0 388.2,64.4 388.5,60.8 388.8,65.0 389.1,65.0 389.4,59.9 389.7,61.0 390.0,62.0 390.3,60.5 390.6,65.7 390.9,61.6 391.2,58.3 391.5,58.4 391.8,59.8 392.1,65.2 392.4,58.8 392.7,59.1 393.0,59.7 393.3,58.0 393.6,63.3 393.9,56.0 394.2,58.7 394.5,56.9 394.8,57.6 395.1,52.8 395.4,59.6 395.7,54.6 396.0,54.6 396.3,51.8 396.6,51.9 396.9,54.1 397.2,54.1 397.5,52.5 397.8,50.0 398.1,50.4 398.4,47.8 398.7,48.7 399.0,44.6 399.3,44.5 399.6,45.5 399.9,45.9 400.2,42.4 400.5,40.1 400.8,41.8 401.1,43.7 401.4,37.7 401.7,37.0 402.0,36.0 402.3,38.4 402.6,30.0 402.9,40.9 403.2,35.9 403.5,30.1 403.8,35.0 404.1,31.8 404.4,28.4 404.7,29.4 405.0,24.4 405.3,25.9 405.6,31.1 405.9,24.1 406.2,30.4 406.5,19.9 406.8,27.6 407.1,24.8 407.4,18.8 407.7,22.5 408.0,24.0 408.3,20.3 408.6,19.6 408.9,23.7 409.2,21.1 409.5,18.5 409.8,20.9 410.1,24.6 410.4,21.3 410.7,24.6 411.0,26.0 411.3,22.3 411.6,19.3 411.9,18.8 412.2,21.9 412.5,24.1 412.8,22.9 413.1,23.8 413.4,21.7 413.7,23.8 414.0,22.2 414.3,22.9 414.6,20.8 414.9,20.4 415.2,23.4 415.5,22.2 415.8,22.8 416.1,27.2 416.4,25.5 416.7,32.8 417.0,27.7 417.3,23.7 417.6,27.0 417.9,25.7 418.2,23.0 418.5,27.2 418.8,22.4 419.1,16.5 419.4,25.9 419.7,22.2 420.0,27.2 420.3,21.9 420.6,20.7 420.9,27.7 421.2,21.4 421.5,24.7 421.8,28.0 422.1,24.9 422.4,24.6 422.7,25.3 423.0,27.3 423.3,23.4 423.6,27.1 423.9,27.2 424.2,32.0 424.5,25.9 424.8,24.9 425.1,29.4 425.4,27.1 425.7,29.2 426.0,29.3 426.3,32.3 426.6,28.2 426.9,30.1 427.2,24.4 427.5,29.0 427.8,35.5 428.1,28.8 428.4,30.9 428.7,30.2 429.0,35.2 429.3,34.7 429.6,31.8 429.9,37.0 430.2,36.5 430.5,38.2 430.8,35.3 431.1,41.7 431.4,38.9 431.7,38.2 432.0,37.7 432.3,38.9 432.6,42.2 432.9,39.9 433.2,43.8 433.5,43.1 433.8,45.5 434.1,44.7 434.4,43.1 434.7,39.0 435.0,45.0 435.3,46.8 435.6,45.8 435.9,47.2 436.2,45.0 436.5,45.6 436.8,44.6 437.1,50.7 437.4,48.1 437.7,46.9 438.0,45.8 438.3,48.5 438.6,52.8 438.9,50.7 439.2,48.0 439.5,53.6 439.8,53.8 440.1,53.0 440.4,52.7 440.7,53.9 441.0,52.6 441.3,53.2 441.6,49.4 441.9,55.2 442.2,52.1 442.5,59.8 442.8,46.6 443.1,53.5 443.4,54.1 443.7,50.7 444.0,52.5 444.3,53.2 444.6,52.6 444.9,49.7 445.2,50.5 445.5,53.2 445.8,53.6 446.1,50.4 446.4,50.1 446.7,50.1 447.0,52.0 447.3,46.5 447.6,45.5 447.9,48.8 448.2,45.3 448.5,46.2 448.8,47.5 449.1,48.1 449.4,43.8 449.7,48.1 450.0,41.2 450.3,46.6 450.6,40.9 450.9,41.3 451.2,45.7 451.5,42.7 451.8,41.4 452.1,41.9 452.4,43.8 452.7,42.1 453.0,41.8 453.3,44.2 453.6,39.3 453.9,39.6 454.2,39.1 454.5,43.0 454.8,42.2 455.1,42.7 455.4,39.2 455.7,38.7 456.0,41.0 456.3,37.6 456.6,40.5 456.9,40.0 457.2,36.2 457.5,37.5 457.8,37.2 458.1,41.6 458.4,38.1 458.7,40.9 459.0,36.6 459.3,30.6 459.6,36.6 459.9,37.4 460.2,32.9 460.5,37.4 460.8,31.2 461.1,34.4 461.4,35.1 461.7,31.3 462.0,36.4 462.3,36.7 462.6,30.3 462.9,30.1 463.2,35.0 463.5,33.3 463.8,30.1 464.1,32.3 464.4,32.6 464.7,32.4 465.0,34.7 465.3,33.4 465.6,36.8 465.9,35.6 466.2,30.3 466.5,34.6 466.8,35.0 467.1,33.3 467.4,28.3 467.7,33.4 468.0,31.3 468.3,35.0 468.6,26.8 468.9,32.0 469.2,31.3 469.5,34.6 469.8,30.6 470.1,29.4 470.4,30.7 470.7,28.6 471.0,29.9 471.3,29.2 471.6,29.7 471.9,33.7 472.2,27.5 472.5,28.4 472.8,27.6 473.1,29.6 473.4,24.6 473.7,25.7 474.0,27.1 474.3,28.3 474.6,26.7 474.9,25.6 475.2,24.8 475.5,28.4 475.8,31.4 476.1,28.0 476.4,27.8 476.7,28.5 477.0,25.0 477.3,26.7 477.6,26.9 477.9,28.4 478.2,27.6 478.5,24.7 478.8,31.1 479.1,33.0 479.4,28.5 479.7,30.6 480.0,30.7 480.3,32.5 480.6,27.2 480.9,35.5 481.2,30.7 481.5,35.5 481.8,33.0 482.1,32.2 482.4,33.3 482.7,36.4 483.0,32.5 483.3,34.3 483.6,34.5 483.9,31.9 484.2,40.2 484.5,38.9 484.8,37.9 485.1,41.4 485.4,36.6 485.7,39.4 486.0,44.5 486.3,43.1 486.6,35.7 486.9,33.8 487.2,40.5 487.5,46.8 487.8,43.8 488.1,45.3 488.4,48.3 488.7,45.4 489.0,49.1 489.3,51.5 489.6,51.5 489.9,52.2 490.2,50.6 490.5,54.3 490.8,53.0 491.1,58.4 491.4,62.6 491.7,55.6 492.0,53.2 492.3,58.6 492.6,63.8 492.9,64.3 493.2,65.4 493.5,62.2 493.8,63.1 494.1,68.8 494.4,64.4 494.7,70.3 495.0,68.3 495.3,71.5 495.6,72.3 495.9,73.4 496.2,74.4 496.5,71.5 496.8,75.2 497.1,75.6 497.4,77.1 497.7,80.0 498.0,77.8 498.3,77.6 498.6,79.2 498.9,79.8 499.2,82.6 499.5,80.2 499.8,84.7 500.1,83.8 500.4,83.5 500.7,82.0 501.0,85.8 501.3,87.3 501.6,83.3 501.9,89.6 502.2,91.2 502.5,89.4 502.8,90.4 503.1,94.7 503.4,93.2 503.7,89.9 504.0,92.2 504.3,92.7 504.6,93.4 504.9,90.0 505.2,96.5 505.5,94.6 505.8,96.8 506.1,96.9 506.4,99.5 506.7,98.1 507.0,95.3 507.3,100.6 507.6,102.7 507.9,100.0 508.2,103.6 508.5,102.1 508.8,101.1 509.1,105.4 509.4,101.6 509.7,105.4 510.0,103.2 510.3,105.4 510.6,102.8 510.9,109.4 511.2,107.9 511.5,106.7 511.8,105.4 512.1,106.4 512.4,108.3 512.7,105.4 513.0,106.3 513.3,108.4 513.6,107.6 513.9,108.2 514.2,112.6 514.5,109.9 514.8,110.2 515.1,113.9 515.4,113.1 515.7,113.9 516.0,112.0 516.3,111.6 516.6,110.3 516.9,112.6 517.2,109.9 517.5,112.9 517.8,115.7 518.1,117.5 518.4,116.8 518.7,114.0 519.0,116.7 519.3,114.9 519.6,118.0 519.9,120.0 520.2,118.8 520.5,122.1 520.8,119.7 521.1,122.4 521.4,119.1 521.7,118.7 522.0,121.9 522.3,122.9 522.6,119.4 522.9,120.8 523.2,118.6 523.5,120.9 523.8,123.1 524.1,121.7 524.4,121.2 524.7,120.1 525.0,123.4 525.3,124.4 525.6,124.3 525.9,124.1 526.2,121.8 526.5,127.1 526.8,124.4 527.1,124.6 527.4,126.3 527.7,121.9 528.0,125.6 528.3,125.8 528.6,127.0 528.9,126.6 529.2,127.7 529.5,124.3 529.8,127.0 530.1,128.2 530.4,129.9 530.7,129.4 531.0,130.5 531.3,138.6 531.6,137.1 531.9,139.8 532.2,144.1 532.5,147.5 532.8,147.4 533.1,151.9 533.4,155.1 533.7,156.7 534.0,159.1 534.3,161.4 534.6,163.8 534.9,166.1 535.2,168.5 535.5,170.8 535.8,173.1 536.1,174.8 536.4,175.0 536.7,175.2 537.0,175.4 537.3,175.6 537.6,175.7 537.9,175.9 538.2,176.1 538.5,176.3 538.8,176.5 539.1,176.6 539.4,176.6 539.7,176.6 540.0,176.6 540.3,176.6 540.6,176.6 540.9,176.6 541.2,176.6 541.5,176.6 541.8,176.6 542.1,176.6 542.4,176.6 542.7,176.6 543.0,176.6 543.3,176.6 543.6,176.6 543.9,176.6 544.2,176.6 544.5,176.6 544.8,176.6" fill="none" stroke="#ff0000" stroke-width="0.9" stroke-linejoin="miter" stroke-miterlimit="4"/>
<path d="M38.4,414.5 38.7,414.5 39.0,414.4 39.3,414.4 39.6,414.3 39.9,414.3 40.2,414.2 40.5,414.2 40.8,414.1 41.1,414.1 41.4,414.0 41.7,414.0 42.0,413.9 42.3,413.9 42.6,413.9 42.9,413.8 43.2,413.8 43.5,413.7 43.8,413.7 44.1,413.6 44.4,413.6 44.7,413.5 45.0,413.4 45.3,413.2 45.6,412.8 45.9,412.4 46.2,412.5 46.5,412.0 46.8,412.4 47.1,411.9 47.4,411.6 47.7,411.4 48.0,411.5 48.3,410.7 48.6,411.3 48.9,409.9 49.2,409.9 49.5,409.2 49.8,410.1 50.1,409.3 50.4,408.2 50.7,410.6 51.0,408.0 51.3,408.0 51.6,408.2 51.9,409.2 52.2,407.1 52.5,407.6 52.8,406.7 53.1,404.8 53.4,406.8 53.7,406.7 54.0,405.2 54.3,405.1 54.6,403.7 54.9,403.5 55.2,406.3 55.5,405.5 55.8,404.2 56.1,404.9 56.4,405.5 56.7,404.5 57.0,404.8 57.3,405.6 57.6,402.7 57.9,404.7 58.2,401.7 58.5,404.1 58.8,403.7 59.1,402.7 59.4,402.0 59.7,402.9 60.0,402.3 60.3,402.7 60.6,401.4 60.9,402.8 61.2,400.9 61.5,401.5 61.8,401.3 62.1,402.9 62.4,399.7 62.7,400.7 63.0,402.3 63.3,400.1 63.6,399.2 63.9,400.8 64.2,400.0 64.5,401.2 64.8,399.0 65.1,400.2 65.4,400.7 65.7,401.0 66.0,398.3 66.3,401.2 66.6,398.4 66.9,397.5 67.2,398.0 67.5,399.3 67.8,398.6 68.1,399.4 68.4,399.3 68.7,399.0 69.0,398.2 69.3,400.6 69.6,395.5 69.9,396.0 70.2,397.4 70.5,396.3 70.8,394.6 71.1,396.7 71.4,396.6 71.7,394.3 72.0,398.4 72.3,398.8 72.6,398.6 72.9,396.3 73.2,397.0 73.5,395.3 73.8,396.8 74.1,395.7 74.4,397.0 74.7,396.0 75.0,397.7 75.3,397.4 75.6,397.8 75.9,394.1 76.2,393.7 76.5,396.6 76.8,395.2 77.1,396.4 77.4,396.3 77.7,396.0 78.0,397.0 78.3,396.4 78.6,397.2 78.9,394.4 79.2,397.8 79.5,395.6 79.8,396.8 80.1,395.7 80.4,396.9 80.7,395.3 81.0,395.4 81.3,395.2 81.6,393.9 81.9,394.1 82.2,394.6 82.5,394.5 82.8,393.3 83.1,397.8 83.4,393.2 83.7,394.0 84.0,397.7 84.3,393.4 84.6,395.2 84.9,395.1 85.2,393.9 85.5,392.2 85.8,392.0 86.1,394.0 86.4,394.6 86.7,391.1 87.0,394.2 87.3,393.0 87.6,395.1 87.9,394.1 88.2,392.8 88.5,393.2 88.8,393.8 89.1,395.6 89.4,397.9 89.7,394.2 90.0,393.8 90.3,394.6 90.6,393.7 90.9,394.6 91.2,394.2 91.5,393.7 91.8,392.6 92.1,393.9 92.4,395.0 92.7,393.8 93.0,395.8 93.3,395.0 93.6,393.6 93.9,396.1 94.2,392.2 94.5,395.3 94.8,398.7 95.1,393.4 95.4,393.6 95.7,395.0 96.0,395.7 96.3,394.4 96.6,394.1 96.9,395.0 97.2,394.1 97.5,392.1 97.8,393.4 98.1,393.6 98.4,391.6 98.7,393.3 99.0,392.6 99.3,394.6 99.6,391.5 99.9,392.3 100.2,391.5 100.5,395.2 100.8,395.2 101.1,395.5 101.4,395.4 101.7,394.6 102.0,394.6 102.3,391.1 102.6,393.8 102.9,392.5 103.2,392.6 103.5,391.2 103.8,394.5 104.1,394.4 104.4,390.4 104.7,392.9 105.0,392.0 105.3,390.5 105.6,391.3 105.9,390.5 106.2,388.4 106.5,389.4 106.8,392.1 107.1,391.9 107.4,391.8 107.7,389.8 108.0,390.6 108.3,391.5 108.6,392.3 108.9,390.3 109.2,390.0 109.5,393.0 109.8,391.5 110.1,390.9 110.4,390.4 110.7,390.5 111.0,393.5 111.3,392.6 111.6,390.6 111.9,389.5 112.2,393.4 112.5,393.2 112.8,392.6 113.1,392.1 113.4,388.6 113.7,389.1 114.0,391.6 114.3,390.4 114.6,391.1 114.9,389.8 115.2,389.4 115.5,390.8 115.8,389.3 116.1,389.6 116.4,389.8 116.7,389.5 117.0,390.5 117.3,390.6 117.6,387.5 117.9,387.8 118.2,387.0 118.5,388.6 118.8,385.8 119.1,388.1 119.4,388.8 119.7,387.2 120.0,384.8 120.3,385.5 120.6,384.1 120.9,386.1 121.2,386.9 121.5,383.5 121.8,384.5 122.1,385.4 122.4,384.9 122.7,387.6 123.0,385.4 123.3,385.9 123.6,384.1 123.9,387.7 124.2,385.8 124.5,386.6 124.8,385.7 125.1,382.7 125.4,383.4 125.7,383.8 126.0,386.2 126.3,384.9 126.6,386.2 126.9,386.0 127.2,385.9 127.5,386.8 127.8,385.8 128.1,383.0 128.4,384.0 128.7,386.9 129.0,382.9 129.3,385.8 129.6,385.9 129.9,382.5 130.2,383.5 130.5,380.8 130.8,383.6 131.1,378.2 131.4,380.8 131.7,382.0 132.0,382.0 132.3,381.8 132.6,382.9 132.9,382.4 133.2,381.8 133.5,384.0 133.8,386.0 134.1,382.9 134.4,381.9 134.7,381.6 135.0,383.8 135.3,382.8 135.6,383.2 135.9,380.5 136.2,381.8 136.5,381.8 136.8,384.6 137.1,382.9 137.4,379.8 137.7,384.3 138.0,384.6 138.3,384.8 138.6,379.1 138.9,383.0 139.2,383.9 139.5,383.5 139.8,382.3 140.1,380.1 140.4,381.9 140.7,382.0 141.0,383.1 141.3,383.3 141.6,381.8 141.9,383.2 142.2,380.6 142.5,381.0 142.8,381.8 143.1,382.6 143.4,381.3 143.7,383.3 144.0,382.3 144.3,380.6 144.6,382.2 144.9,381.1 145.2,381.2 145.5,380.7 145.8,384.7 146.1,384.3 146.4,381.0 146.7,384.9 147.0,384.9 147.3,383.4 147.6,384.0 147.9,387.4 148.2,384.9 148.5,385.3 148.8,386.5 149.1,383.8 149.4,383.7 149.7,383.8 150.0,385.8 150.3,387.3 150.6,385.2 150.9,384.7 151.2,387.1 151.5,387.8 151.8,388.1 152.1,387.4 152.4,387.5 152.7,387.9 153.0,388.4 153.3,387.3 153.6,387.4 153.9,391.4 154.2,393.7 154.5,391.3 154.8,387.9 155.1,390.4 155.4,392.3 155.7,388.8 156.0,390.6 156.3,391.0 156.6,390.6 156.9,391.0 157.2,393.9 157.5,392.2 157.8,392.8 158.1,395.7 158.4,392.5 158.7,391.1 159.0,394.7 159.3,396.6 159.6,394.3 159.9,394.5 160.2,392.4 160.5,392.9 160.8,396.2 161.1,396.0 161.4,395.2 161.7,393.6 162.0,392.9 162.3,393.2 162.6,393.1 162.9,395.6 163.2,393.7 163.5,394.2 163.8,395.9 164.1,396.0 164.4,395.0 164.7,395.6 165.0,394.8 165.3,392.1 165.6,394.6 165.9,394.0 166.2,394.0 166.5,394.8 166.8,393.6 167.1,396.0 167.4,394.1 167.7,394.7 168.0,395.0 168.3,394.4 168.6,395.5 168.9,395.8 169.2,395.7 169.5,393.9 169.8,393.7 170.1,394.1 170.4,394.8 170.7,392.1 171.0,393.3 171.3,392.8 171.6,393.3 171.9,392.8 172.2,395.0 172.5,394.4 172.8,394.9 173.1,392.1 173.4,392.2 173.7,392.7 174.0,395.3 174.3,395.1 174.6,391.9 174.9,393.4 175.2,395.3 175.5,390.8 175.8,391.8 176.1,393.8 176.4,392.9 176.7,390.5 177.0,393.9 177.3,393.1 177.6,392.6 177.9,389.9 178.2,391.3 178.5,393.2 178.8,392.0 179.1,392.3 179.4,390.7 179.7,393.0 180.0,390.4 180.3,391.9 180.6,390.9 180.9,389.0 181.2,392.2 181.5,388.3 181.8,388.9 182.1,389.9 182.4,387.7 182.7,387.0 183.0,389.1 183.3,388.5 183.6,388.6 183.9,389.5 184.2,391.7 184.5,387.9 184.8,391.6 185.1,388.4 185.4,387.8 185.7,384.0 186.0,385.4 186.3,385.4 186.6,387.8 186.9,385.7 187.2,387.1 187.5,387.7 187.8,385.5 188.1,383.8 188.4,384.5 188.7,385.2 189.0,385.7 189.3,386.2 189.6,383.6 189.9,384.7 190.2,384.1 190.5,384.3 190.8,385.5 191.1,385.6 191.4,382.9 191.7,382.6 192.0,382.4 192.3,382.4 192.6,382.4 192.9,382.6 193.2,382.0 193.5,381.1 193.8,380.8 194.1,378.6 194.4,385.4 194.7,382.7 195.0,382.7 195.3,382.3 195.6,381.8 195.9,384.9 196.2,381.9 196.5,381.1 196.8,380.9 197.1,383.0 197.4,381.6 197.7,381.9 198.0,382.1 198.3,381.6 198.6,383.8 198.9,381.4 199.2,387.1 199.5,380.4 199.8,382.5 200.1,384.7 200.4,387.0 200.7,384.6 201.0,385.7 201.3,385.8 201.6,385.9 201.9,386.8 202.2,386.5 202.5,386.3 202.8,386.5 203.1,388.2 203.4,387.1 203.7,388.4 204.0,390.1 204.3,388.8 204.6,390.2 204.9,388.3 205.2,387.7 205.5,390.2 205.8,390.1 206.1,390.8 206.4,392.3 206.7,390.4 207.0,390.3 207.3,392.0 207.6,389.9 207.9,392.3 208.2,394.3 208.5,393.0 208.8,394.1 209.1,394.3 209.4,395.8 209.7,395.2 210.0,395.2 210.3,390.7 210.6,394.8 210.9,396.7 211.2,395.9 211.5,395.3 211.8,397.9 212.1,395.7 212.4,396.7 212.7,398.4 213.0,397.1 213.3,398.3 213.6,398.3 213.9,397.0 214.2,398.2 214.5,397.0 214.8,398.5 215.1,401.1 215.4,399.8 215.7,399.2 216.0,398.4 216.3,400.1 216.6,402.5 216.9,400.5 217.2,402.2 217.5,402.0 217.8,400.9 218.1,400.4 218.4,402.6 218.7,399.7 219.0,402.9 219.3,400.7 219.6,403.6 219.9,402.1 220.2,402.6 220.5,404.3 220.8,401.7 221.1,403.2 221.4,402.9 221.7,404.1 222.0,404.5 222.3,404.0 222.6,403.9 222.9,403.2 223.2,405.7 223.5,403.6 223.8,404.1 224.1,404.3 224.4,402.3 224.7,402.7 225.0,404.6 225.3,404.3 225.6,407.3 225.9,401.0 226.2,404.6 226.5,405.8 226.8,404.5 227.1,405.4 227.4,404.4 227.7,404.3 228.0,405.6 228.3,402.6 228.6,401.3 228.9,405.0 229.2,404.7 229.5,404.8 229.8,405.2 230.1,405.8 230.4,404.5 230.7,405.9 231.0,405.8 231.3,404.1 231.6,405.5 231.9,406.2 232.2,405.1 232.5,407.4 232.8,406.0 233.1,407.5 233.4,408.4 233.7,405.5 234.0,405.9 234.3,407.8 234.6,407.5 234.9,408.4 235.2,409.8 235.5,407.9 235.8,409.3 236.1,408.6 236.4,408.5 236.7,409.7 237.0,410.0 237.3,411.0 237.6,410.8 237.9,411.6 238.2,411.7 238.5,410.6 238.8,411.9 239.1,412.3 239.4,413.4 239.7,412.9 240.0,413.7 240.3,413.9 240.6,414.2 240.9,414.4 241.2,414.5 241.5,414.5 241.8,414.5 242.1,414.5 242.4,414.6 242.7,414.6 243.0,414.6 243.3,414.6 243.6,414.7 243.9,414.7 244.2,414.7 244.5,414.7 244.8,414.7 245.1,414.7 245.4,414.7 245.7,414.7 246.0,414.7 246.3,414.7 246.6,414.7 246.9,414.7 247.2,414.7 247.5,414.7 247.8,414.7" fill="none" stroke="#0000ff" stroke-width="0.9" stroke-linejoin="miter" stroke-miterlimit="4"/>
<path d="M38.4,414.3 38.7,414.3 39.0,414.3 39.3,414.3 39.6,414.2 39.9,414.2 40.2,414.2 40.5,414.2 40.8,414.2 41.1,414.2 41.4,414.1 41.7,414.1 42.0,414.1 42.3,414.1 42.6,414.1 42.9,414.1 43.2,414.0 43.5,414.0 43.8,414.0 44.1,413.9 44.4,413.7 44.7,413.4 45.0,413.2 45.3,412.9 45.6,412.8 45.9,412.6 46.2,411.9 46.5,411.9 46.8,411.1 47.1,410.7 47.4,409.6 47.7,409.4 48.0,408.8 48.3,407.2 48.6,406.9 48.9,406.5 49.2,405.3 49.5,404.3 49.8,404.7 50.1,402.9 50.4,404.0 50.7,402.8 51.0,400.4 51.3,401.0 51.6,399.0 51.9,399.7 52.2,398.4 52.5,395.8 52.8,396.5 53.1,395.6 53.4,395.9 53.7,393.1 54.0,394.1 54.3,391.6 54.6,391.6 54.9,390.4 55.2,392.0 55.5,390.4 55.8,391.6 56.1,389.1 56.4,388.7 56.7,388.0 57.0,385.8 57.3,385.8 57.6,386.7 57.9,384.3 58.2,384.4 58.5,383.7 58.8,383.8 59.1,382.2 59.4,381.9 59.7,382.8 60.0,381.2 60.3,379.5 60.6,380.9 60.9,377.8 61.2,377.3 61.5,376.6 61.8,378.6 62.1,376.5 62.4,375.1 62.7,374.3 63.0,375.6 63.3,373.2 63.6,372.1 63.9,373.7 64.2,370.6 64.5,371.0 64.8,370.6 65.1,369.3 65.4,369.0 65.7,370.0 66.0,366.8 66.3,365.2 66.6,363.8 66.9,365.5 67.2,364.8 67.5,365.1 67.8,359.5 68.1,363.0 68.4,360.8 68.7,361.8 69.0,362.3 69.3,361.0 69.6,361.1 69.9,363.1 70.2,360.4 70.5,356.7 70.8,360.9 71.1,358.2 71.4,355.6 71.7,357.7 72.0,355.7 72.3,354.0 72.6,353.3 72.9,352.1 73.2,353.0 73.5,353.9 73.8,351.1 74.1,351.5 74.4,348.0 74.7,347.6 75.0,349.2 75.3,347.6 75.6,345.7 75.9,345.0 76.2,346.0 76.5,346.1 76.8,343.9 77.1,344.8 77.4,345.8 77.7,344.9 78.0,345.8 78.3,344.9 78.6,344.8 78.9,347.2 79.2,344.8 79.5,343.7 79.8,344.7 80.1,341.4 80.4,342.3 80.7,344.3 81.0,343.6 81.3,345.1 81.6,341.6 81.9,338.2 82.2,344.8 82.5,342.6 82.8,337.7 83.1,342.5 83.4,339.2 83.7,334.7 84.0,337.0 84.3,336.0 84.6,339.9 84.9,333.8 85.2,334.2 85.5,333.4 85.8,332.4 86.1,330.4 86.4,332.5 86.7,334.4 87.0,333.3 87.3,329.5 87.6,328.8 87.9,325.6 88.2,329.7 88.5,329.8 88.8,327.1 89.1,336.0 89.4,333.4 89.7,328.5 90.0,333.2 90.3,334.2 90.6,324.2 90.9,328.5 91.2,328.5 91.5,333.6 91.8,328.3 92.1,327.6 92.4,327.6 92.7,332.2 93.0,332.6 93.3,325.1 93.6,323.6 93.9,332.8 94.2,322.9 94.5,323.9 94.8,325.5 95.1,326.6 95.4,328.0 95.7,326.2 96.0,322.7 96.3,326.4 96.6,325.6 96.9,330.0 97.2,324.7 97.5,321.0 97.8,321.7 98.1,328.5 98.4,322.9 98.7,318.3 99.0,322.4 99.3,323.9 99.6,327.1 99.9,320.7 100.2,325.3 100.5,325.5 100.8,321.2 101.1,322.5 101.4,327.9 101.7,327.6 102.0,325.0 102.3,323.2 102.6,325.3 102.9,321.4 103.2,321.3 103.5,318.9 103.8,321.2 104.1,320.7 104.4,328.8 104.7,319.9 105.0,324.0 105.3,323.9 105.6,319.2 105.9,322.9 106.2,312.6 106.5,319.0 106.8,320.9 107.1,310.8 107.4,314.1 107.7,320.4 108.0,316.1 108.3,313.1 108.6,315.0 108.9,314.1 109.2,317.6 109.5,316.4 109.8,313.7 110.1,312.2 110.4,313.7 110.7,317.5 111.0,314.1 111.3,314.6 111.6,311.8 111.9,307.8 112.2,309.3 112.5,314.4 112.8,311.0 113.1,307.1 113.4,304.0 113.7,308.7 114.0,306.4 114.3,305.6 114.6,293.3 114.9,306.0 115.2,305.2 115.5,306.6 115.8,305.7 116.1,305.9 116.4,303.2 116.7,295.4 117.0,298.4 117.3,299.2 117.6,295.6 117.9,297.3 118.2,298.2 118.5,290.9 118.8,286.9 119.1,304.9 119.4,291.5 119.7,293.1 120.0,285.9 120.3,295.1 120.6,291.4 120.9,288.0 121.2,286.7 121.5,287.6 121.8,286.1 122.1,285.1 122.4,281.8 122.7,288.8 123.0,284.1 123.3,283.8 123.6,283.3 123.9,274.9 124.2,283.5 124.5,280.1 124.8,279.9 125.1,281.2 125.4,277.9 125.7,283.8 126.0,279.6 126.3,278.4 126.6,282.0 126.9,282.0 127.2,284.0 127.5,279.8 127.8,277.0 128.1,285.3 128.4,278.6 128.7,286.0 129.0,282.1 129.3,280.1 129.6,280.4 129.9,284.0 130.2,285.5 130.5,282.1 130.8,286.0 131.1,289.8 131.4,282.7 131.7,279.9 132.0,280.4 132.3,279.5 132.6,282.1 132.9,282.0 133.2,280.3 133.5,286.4 133.8,276.4 134.1,280.4 134.4,291.0 134.7,287.8 135.0,286.1 135.3,285.8 135.6,290.0 135.9,285.9 136.2,284.4 136.5,280.1 136.8,283.8 137.1,281.6 137.4,281.6 137.7,281.6 138.0,284.1 138.3,283.4 138.6,287.6 138.9,280.9 139.2,284.9 139.5,291.7 139.8,286.1 140.1,290.1 140.4,290.2 140.7,291.1 141.0,289.6 141.3,283.1 141.6,286.9 141.9,287.0 142.2,283.6 142.5,287.5 142.8,285.3 143.1,284.4 143.4,290.8 143.7,290.4 144.0,288.7 144.3,288.2 144.6,289.9 144.9,290.8 145.2,291.1 145.5,292.6 145.8,291.8 146.1,305.1 146.4,295.5 146.7,295.3 147.0,294.2 147.3,292.9 147.6,296.6 147.9,294.9 148.2,295.8 148.5,288.3 148.8,288.0 149.1,298.0 149.4,298.4 149.7,302.3 150.0,300.7 150.3,299.6 150.6,302.0 150.9,295.4 151.2,303.3 151.5,299.0 151.8,303.1 152.1,302.6 152.4,303.4 152.7,305.8 153.0,301.4 153.3,301.8 153.6,300.3 153.9,301.9 154.2,308.4 154.5,301.9 154.8,306.9 155.1,305.8 155.4,305.5 155.7,305.7 156.0,299.9 156.3,304.4 156.6,308.2 156.9,300.7 157.2,302.5 157.5,300.3 157.8,303.3 158.1,298.6 158.4,307.0 158.7,300.4 159.0,296.4 159.3,306.9 159.6,304.0 159.9,302.4 160.2,302.2 160.5,299.1 160.8,299.0 161.1,301.3 161.4,301.1 161.7,300.4 162.0,297.4 162.3,294.5 162.6,294.6 162.9,298.0 163.2,298.3 163.5,291.9 163.8,290.7 164.1,295.6 164.4,293.2 164.7,292.5 165.0,285.4 165.3,287.7 165.6,286.6 165.9,288.5 166.2,282.4 166.5,291.9 166.8,288.8 167.1,289.2 167.4,284.0 167.7,287.7 168.0,292.1 168.3,282.8 168.6,288.8 168.9,290.0 169.2,285.5 169.5,290.2 169.8,286.4 170.1,291.3 170.4,289.0 170.7,287.9 171.0,293.5 171.3,289.6 171.6,291.1 171.9,282.9 172.2,284.3 172.5,288.8 172.8,288.7 173.1,285.3 173.4,287.7 173.7,281.5 174.0,282.4 174.3,286.4 174.6,288.7 174.9,282.1 175.2,275.6 175.5,283.3 175.8,288.6 176.1,279.3 176.4,274.9 176.7,285.5 177.0,280.6 177.3,287.3 177.6,282.2 177.9,281.5 178.2,282.2 178.5,286.4 178.8,282.7 179.1,282.0 179.4,280.9 179.7,274.9 180.0,276.7 180.3,283.8 180.6,281.3 180.9,279.9 181.2,279.9 181.5,277.1 181.8,278.2 182.1,273.8 182.4,277.6 182.7,273.6 183.0,275.4 183.3,277.8 183.6,275.5 183.9,278.8 184.2,278.4 184.5,278.3 184.8,281.5 185.1,272.8 185.4,272.6 185.7,279.9 186.0,280.8 186.3,284.1 186.6,280.0 186.9,284.2 187.2,274.6 187.5,279.7 187.8,279.4 188.1,273.7 188.4,274.1 188.7,276.5 189.0,278.4 189.3,268.7 189.6,279.0 189.9,280.1 190.2,279.4 190.5,281.4 190.8,282.7 191.1,278.7 191.4,284.0 191.7,282.6 192.0,281.0 192.3,285.4 192.6,290.2 192.9,281.5 193.2,281.6 193.5,282.3 193.8,294.5 194.1,288.0 194.4,289.2 194.7,287.5 195.0,287.6 195.3,284.7 195.6,292.3 195.9,293.2 196.2,286.7 196.5,290.3 196.8,292.1 197.1,295.4 197.4,297.3 197.7,301.2 198.0,303.0 198.3,303.1 198.6,305.0 198.9,298.5 199.2,301.9 199.5,308.9 199.8,307.6 200.1,308.3 200.4,303.4 200.7,305.0 201.0,313.5 201.3,312.7 201.6,311.1 201.9,311.2 202.2,307.6 202.5,314.4 202.8,309.2 203.1,318.9 203.4,314.6 203.7,314.5 204.0,312.8 204.3,320.2 204.6,322.4 204.9,316.6 205.2,319.9 205.5,320.2 205.8,319.2 206.1,314.8 206.4,321.3 206.7,324.8 207.0,320.3 207.3,322.8 207.6,317.4 207.9,330.1 208.2,328.9 208.5,328.6 208.8,328.7 209.1,330.8 209.4,331.0 209.7,331.3 210.0,332.3 210.3,333.7 210.6,335.0 210.9,339.2 211.2,332.9 211.5,337.9 211.8,336.6 212.1,336.3 212.4,334.2 212.7,342.2 213.0,339.1 213.3,340.2 213.6,343.6 213.9,340.5 214.2,343.6 214.5,338.2 214.8,346.5 215.1,347.5 215.4,343.6 215.7,348.3 216.0,346.4 216.3,347.5 216.6,347.2 216.9,349.9 217.2,345.7 217.5,349.5 217.8,351.9 218.1,349.0 218.4,354.6 218.7,348.7 219.0,351.2 219.3,350.0 219.6,350.1 219.9,349.3 220.2,351.0 220.5,352.5 220.8,351.1 221.1,355.2 221.4,356.9 221.7,350.4 222.0,356.0 222.3,354.8 222.6,355.3 222.9,360.5 223.2,358.0 223.5,356.4 223.8,356.4 224.1,351.8 224.4,358.4 224.7,355.4 225.0,357.8 225.3,358.0 225.6,360.2 225.9,363.0 226.2,361.0 226.5,362.0 226.8,359.1 227.1,361.0 227.4,362.0 227.7,357.6 228.0,365.5 228.3,359.9 228.6,359.1 228.9,365.7 229.2,367.1 229.5,361.4 229.8,362.0 230.1,370.4 230.4,364.3 230.7,360.2 231.0,360.2 231.3,369.4 231.6,367.0 231.9,367.6 232.2,369.3 232.5,368.9 232.8,367.5 233.1,365.5 233.4,370.5 233.7,367.9 234.0,370.9 234.3,375.4 234.6,373.5 234.9,373.9 235.2,375.2 235.5,377.7 235.8,381.4 236.1,377.0 236.4,380.6 236.7,384.3 237.0,385.3 237.3,386.0 237.6,388.4 237.9,389.9 238.2,392.9 238.5,396.4 238.8,399.0 239.1,402.1 239.4,405.1 239.7,408.1 240.0,410.3 240.3,412.0 240.6,413.8 240.9,413.9 241.2,414.0 241.5,414.0 241.8,414.1 242.1,414.2 242.4,414.3 242.7,414.4 243.0,414.4 243.3,414.5 243.6,414.6 243.9,414.7 244.2,414.7 244.5,414.7 244.8,414.7 245.1,414.7 245.4,414.7 245.7,414.7 246.0,414.7 246.3,414.7 246.6,414.7 246.9,414.7 247.2,414.7 247.5,414.7 247.8,414.7" fill="none" stroke="#ff0000" stroke-width="0.9" stroke-linejoin="miter" stroke-miterlimit="4"/>
<path d="M315.9,407.7 316.2,408.0 316.5,407.9 316.8,408.7 317.1,406.8 317.4,408.7 317.7,410.0 318.0,409.5 318.3,409.5 318.6,409.9 318.9,409.2 319.2,408.4 319.5,409.2 319.8,409.8 320.1,407.6 320.4,408.9 320.7,408.3 321.0,409.9 321.3,407.6 321.6,412.1 321.9,410.1 322.2,409.0 322.5,407.0 322.8,409.2 323.1,408.8 323.4,408.7 323.7,408.9 324.0,409.4 324.3,407.1 324.6,409.9 324.9,406.1 325.2,403.2 325.5,404.8 325.8,406.6 326.1,401.9 326.4,408.2 326.7,399.9 327.0,398.1 327.3,398.1 327.6,395.2 327.9,399.3 328.2,393.9 328.5,391.2 328.8,390.5 329.1,392.8 329.4,391.7 329.7,393.2 330.0,392.7 330.3,386.1 330.6,387.4 330.9,383.5 331.2,386.0 331.5,381.3 331.8,380.2 332.1,389.4 332.4,381.9 332.7,382.3 333.0,386.5 333.3,379.1 333.6,374.4 333.9,373.1 334.2,368.6 334.5,372.8 334.8,367.5 335.1,374.0 335.4,366.3 335.7,365.6 336.0,364.8 336.3,367.9 336.6,365.8 336.9,377.3 337.2,361.9 337.5,364.3 337.8,369.7 338.1,373.6 338.4,363.4 338.7,366.7 339.0,362.3 339.3,359.5 339.6,351.2 339.9,374.4 340.2,359.5 340.5,362.1 340.8,354.7 341.1,363.2 341.4,357.5 341.7,355.0 342.0,350.6 342.3,355.1 342.6,351.0 342.9,351.0 343.2,344.0 343.5,347.4 343.8,346.1 344.1,341.6 344.4,346.0 344.7,347.3 345.0,342.9 345.3,341.8 345.6,342.0 345.9,351.2 346.2,338.6 346.5,335.3 346.8,344.0 347.1,346.7 347.4,346.0 347.7,341.8 348.0,353.7 348.3,346.1 348.6,338.8 348.9,339.9 349.2,343.4 349.5,344.9 349.8,335.6 350.1,343.7 350.4,322.2 350.7,335.6 351.0,341.9 351.3,344.8 351.6,336.2 351.9,326.8 352.2,351.0 352.5,329.5 352.8,334.5 353.1,333.5 353.4,345.3 353.7,332.1 354.0,328.8 354.3,332.4 354.6,324.5 354.9,332.6 355.2,317.2 355.5,324.6 355.8,326.7 356.1,328.1 356.4,330.7 356.7,332.4 357.0,330.3 357.3,335.1 357.6,326.0 357.9,322.0 358.2,329.9 358.5,326.7 358.8,316.0 359.1,320.5 359.4,325.0 359.7,318.1 360.0,323.7 360.3,315.9 360.6,324.7 360.9,323.6 361.2,316.5 361.5,328.1 361.8,340.0 362.1,319.9 362.4,329.6 362.7,315.1 363.0,323.8 363.3,314.8 363.6,321.3 363.9,334.5 364.2,319.9 364.5,316.5 364.8,330.0 365.1,317.2 365.4,318.5 365.7,320.6 366.0,313.3 366.3,323.8 366.6,325.8 366.9,308.2 367.2,320.0 367.5,317.8 367.8,322.1 368.1,304.5 368.4,317.5 368.7,319.0 369.0,309.1 369.3,319.4 369.6,316.9 369.9,306.7 370.2,317.6 370.5,319.5 370.8,318.9 371.1,312.3 371.4,316.1 371.7,315.7 372.0,316.5 372.3,313.6 372.6,320.2 372.9,321.6 373.2,322.4 373.5,323.9 373.8,308.0 374.1,313.7 374.4,313.3 374.7,314.5 375.0,318.8 375.3,316.1 375.6,321.1 375.9,324.2 376.2,315.4 376.5,321.8 376.8,316.1 377.1,312.5 377.4,312.7 377.7,317.0 378.0,310.3 378.3,320.8 378.6,325.2 378.9,299.7 379.2,326.5 379.5,325.5 379.8,320.4 380.1,319.8 380.4,317.9 380.7,323.5 381.0,320.6 381.3,314.5 381.6,310.6 381.9,307.7 382.2,322.2 382.5,318.3 382.8,325.8 383.1,321.6 383.4,301.2 383.7,320.6 384.0,324.4 384.3,315.3 384.6,316.9 384.9,326.6 385.2,311.5 385.5,314.2 385.8,323.4 386.1,319.7 386.4,338.0 386.7,310.9 387.0,320.6 387.3,323.8 387.6,323.3 387.9,320.1 388.2,324.5 388.5,319.1 388.8,313.8 389.1,325.9 389.4,312.6 389.7,316.0 390.0,315.9 390.3,322.1 390.6,312.4 390.9,314.2 391.2,307.4 391.5,316.2 391.8,311.9 392.1,317.0 392.4,309.9 392.7,314.6 393.0,309.5 393.3,310.9 393.6,312.4 393.9,318.0 394.2,310.2 394.5,312.6 394.8,307.8 395.1,308.7 395.4,307.9 395.7,332.2 396.0,313.6 396.3,305.2 396.6,312.8 396.9,305.4 397.2,301.6 397.5,306.8 397.8,307.7 398.1,314.1 398.4,313.4 398.7,309.6 399.0,313.0 399.3,306.6 399.6,307.0 399.9,314.8 400.2,300.6 400.5,303.8 400.8,306.1 401.1,313.7 401.4,302.2 401.7,307.3 402.0,309.7 402.3,300.9 402.6,300.1 402.9,307.1 403.2,296.5 403.5,293.4 403.8,300.6 404.1,294.0 404.4,301.1 404.7,297.0 405.0,286.3 405.3,294.3 405.6,292.3 405.9,288.6 406.2,295.4 406.5,282.2 406.8,283.9 407.1,286.8 407.4,292.0 407.7,281.5 408.0,285.0 408.3,284.3 408.6,279.0 408.9,278.6 409.2,281.2 409.5,285.2 409.8,286.7 410.1,281.1 410.4,280.9 410.7,280.2 411.0,280.7 411.3,277.5 411.6,279.0 411.9,284.6 412.2,280.1 412.5,298.0 412.8,280.2 413.1,291.1 413.4,277.0 413.7,281.6 414.0,279.2 414.3,280.0 414.6,284.9 414.9,277.2 415.2,271.6 415.5,276.1 415.8,278.1 416.1,272.7 416.4,279.0 416.7,275.4 417.0,275.4 417.3,279.8 417.6,269.5 417.9,262.3 418.2,266.3 418.5,265.5 418.8,276.6 419.1,270.9 419.4,268.1 419.7,259.7 420.0,274.4 420.3,273.0 420.6,266.3 420.9,268.4 421.2,270.7 421.5,268.8 421.8,254.6 422.1,271.3 422.4,269.6 422.7,270.8 423.0,263.3 423.3,263.7 423.6,278.4 423.9,264.7 424.2,273.1 424.5,269.2 424.8,272.1 425.1,268.2 425.4,275.7 425.7,272.9 426.0,270.0 426.3,265.4 426.6,270.6 426.9,269.1 427.2,266.3 427.5,273.4 427.8,274.1 428.1,275.1 428.4,271.8 428.7,270.1 429.0,276.0 429.3,274.2 429.6,280.7 429.9,273.0 430.2,266.4 430.5,274.4 430.8,280.5 431.1,271.3 431.4,269.1 431.7,273.9 432.0,278.6 432.3,269.1 432.6,268.8 432.9,271.4 433.2,263.4 433.5,268.7 433.8,264.0 434.1,269.8 434.4,273.3 434.7,275.8 435.0,269.8 435.3,276.3 435.6,270.8 435.9,265.1 436.2,276.5 436.5,275.7 436.8,275.1 437.1,261.9 437.4,276.6 437.7,277.2 438.0,278.2 438.3,283.5 438.6,277.5 438.9,291.7 439.2,285.5 439.5,285.8 439.8,271.0 440.1,274.9 440.4,294.6 440.7,289.9 441.0,294.0 441.3,282.2 441.6,290.8 441.9,295.7 442.2,289.1 442.5,301.7 442.8,289.2 443.1,297.5 443.4,295.7 443.7,300.2 444.0,306.2 444.3,293.7 444.6,303.6 444.9,302.6 445.2,307.7 445.5,303.7 445.8,301.8 446.1,308.3 446.4,313.9 446.7,311.6 447.0,308.6 447.3,310.9 447.6,300.3 447.9,306.8 448.2,309.3 448.5,308.4 448.8,308.2 449.1,312.7 449.4,335.7 449.7,325.6 450.0,310.9 450.3,316.5 450.6,321.5 450.9,317.1 451.2,311.6 451.5,325.9 451.8,316.4 452.1,316.1 452.4,314.9 452.7,286.2 453.0,319.9 453.3,314.2 453.6,318.2 453.9,322.3 454.2,319.1 454.5,319.6 454.8,322.3 455.1,326.7 455.4,322.4 455.7,314.6 456.0,320.0 456.3,311.6 456.6,329.9 456.9,325.7 457.2,323.1 457.5,323.7 457.8,318.8 458.1,321.1 458.4,327.3 458.7,321.4 459.0,324.9 459.3,322.6 459.6,322.5 459.9,322.8 460.2,326.8 460.5,319.0 460.8,324.5 461.1,315.9 461.4,316.9 461.7,315.9 462.0,324.5 462.3,317.4 462.6,325.8 462.9,312.4 463.2,320.1 463.5,310.7 463.8,323.4 464.1,312.5 464.4,318.7 464.7,311.7 465.0,310.8 465.3,316.1 465.6,304.4 465.9,307.0 466.2,322.1 466.5,308.2 466.8,317.2 467.1,307.1 467.4,302.2 467.7,308.8 468.0,315.7 468.3,310.1 468.6,308.1 468.9,314.3 469.2,304.5 469.5,312.6 469.8,309.8 470.1,301.6 470.4,312.4 470.7,313.0 471.0,304.7 471.3,306.3 471.6,303.5 471.9,298.2 472.2,308.8 472.5,297.9 472.8,306.3 473.1,299.7 473.4,296.4 473.7,305.3 474.0,302.5 474.3,311.2 474.6,299.6 474.9,300.2 475.2,299.5 475.5,296.8 475.8,298.5 476.1,305.5 476.4,300.3 476.7,290.2 477.0,297.8 477.3,293.3 477.6,291.6 477.9,284.8 478.2,314.3 478.5,298.7 478.8,293.1 479.1,293.3 479.4,299.7 479.7,299.9 480.0,290.0 480.3,272.9 480.6,277.5 480.9,292.0 481.2,289.8 481.5,271.4 481.8,278.9 482.1,285.3 482.4,279.6 482.7,280.3 483.0,280.4 483.3,277.3 483.6,268.0 483.9,276.8 484.2,282.1 484.5,270.2 484.8,271.7 485.1,262.6 485.4,267.8 485.7,259.4 486.0,264.9 486.3,268.6 486.6,265.5 486.9,264.1 487.2,267.5 487.5,259.6 487.8,255.1 488.1,285.2 488.4,261.7 488.7,263.4 489.0,256.8 489.3,256.4 489.6,256.1 489.9,251.8 490.2,261.6 490.5,260.1 490.8,271.2 491.1,266.9 491.4,247.3 491.7,257.3 492.0,267.9 492.3,268.4 492.6,270.9 492.9,262.0 493.2,264.0 493.5,276.0 493.8,268.5 494.1,269.4 494.4,266.3 494.7,287.7 495.0,276.3 495.3,272.8 495.6,274.0 495.9,278.0 496.2,271.0 496.5,280.6 496.8,278.9 497.1,275.2 497.4,285.5 497.7,297.0 498.0,292.7 498.3,295.5 498.6,296.8 498.9,291.0 499.2,292.1 499.5,290.9 499.8,302.0 500.1,295.2 500.4,308.0 500.7,291.4 501.0,302.6 501.3,300.5 501.6,304.7 501.9,308.7 502.2,316.2 502.5,309.1 502.8,314.2 503.1,310.4 503.4,308.7 503.7,311.2 504.0,320.8 504.3,320.4 504.6,314.8 504.9,323.8 505.2,326.6 505.5,327.9 505.8,332.1 506.1,323.1 506.4,326.8 506.7,327.9 507.0,334.5 507.3,340.7 507.6,335.1 507.9,339.7 508.2,343.2 508.5,339.3 508.8,345.8 509.1,343.6 509.4,342.7 509.7,351.4 510.0,339.9 510.3,345.0 510.6,354.9 510.9,345.0 511.2,353.5 511.5,348.0 511.8,345.8 512.1,357.5 512.4,353.2 512.7,348.4 513.0,352.2 513.3,351.1 513.6,351.1 513.9,355.1 514.2,360.4 514.5,351.8 514.8,359.8 515.1,353.3 515.4,359.3 515.7,354.8 516.0,355.7 516.3,358.5 516.6,365.2 516.9,365.1 517.2,362.0 517.5,370.2 517.8,363.9 518.1,374.2 518.4,365.7 518.7,364.5 519.0,363.0 519.3,363.5 519.6,366.6 519.9,366.2 520.2,355.5 520.5,371.2 520.8,365.1 521.1,363.0 521.4,372.5 521.7,357.6 522.0,358.7 522.3,367.1 522.6,363.4 522.9,366.7 523.2,368.0 523.5,382.9 523.8,366.5 524.1,362.3 524.4,359.0 524.7,365.3 525.0,359.2 525.3,365.8 525.6,363.4 525.9,367.9 526.2,369.4 526.5,367.2 526.8,363.5 527.1,369.0 527.4,366.7 527.7,370.5 528.0,368.5 528.3,378.1 528.6,369.4 528.9,365.6 529.2,369.5 529.5,373.3 529.8,382.5 530.1,378.7 530.4,373.0 530.7,375.5 531.0,375.6 531.3,372.6 531.6,380.2 531.9,379.5 532.2,377.2 532.5,378.2 532.8,381.9 533.1,383.3 533.4,380.6 533.7,379.4 534.0,386.0 534.3,383.3 534.6,382.6 534.9,387.5 535.2,389.7 535.5,386.3 535.8,391.5 536.1,394.3 536.4,393.3 536.7,398.3 537.0,397.6 537.3,403.0 537.6,404.3 537.9,403.5 538.2,405.8 538.5,409.1 538.8,407.7 539.1,402.2 539.4,411.2 539.7,412.2 540.0,412.9 540.3,411.8 540.6,411.4 540.9,411.7 541.2,412.9 541.5,411.8 541.8,412.6 542.1,409.9 542.4,411.6 542.7,411.1 543.0,413.1 543.3,412.4 543.6,412.0 543.9,413.0 544.2,411.8 544.5,415.2 544.8,410.4 545.1,411.6 545.4,413.5 545.7,412.2 546.0,411.6 546.3,412.3 546.6,410.6 546.9,411.2" fill="none" stroke="#0000ff" stroke-width="0.9" stroke-linejoin="miter" stroke-miterlimit="4"/>
<path d="M315.9,413.3 316.2,414.1 316.5,412.7 316.8,412.8 317.1,412.9 317.4,413.0 317.7,413.1 318.0,413.7 318.3,415.9 318.6,412.7 318.9,413.2 319.2,413.1 319.5,412.9 319.8,412.3 320.1,412.8 320.4,413.2 320.7,412.0 321.0,412.4 321.3,411.6 321.6,411.9 321.9,411.5 322.2,412.4 322.5,411.8 322.8,412.6 323.1,412.5 323.4,412.3 323.7,410.8 324.0,412.0 324.3,412.3 324.6,411.8 324.9,410.1 325.2,410.1 325.5,409.1 325.8,408.6 326.1,411.7 326.4,407.5 326.7,407.3 327.0,407.5 327.3,405.6 327.6,405.1 327.9,404.4 328.2,403.5 328.5,401.2 328.8,401.7 329.1,402.3 329.4,398.0 329.7,400.0 330.0,398.2 330.3,396.4 330.6,397.7 330.9,396.6 331.2,393.3 331.5,394.2 331.8,394.1 332.1,392.4 332.4,392.8 332.7,391.0 333.0,391.3 333.3,391.5 333.6,388.0 333.9,388.4 334.2,386.7 334.5,386.8 334.8,390.3 335.1,384.6 335.4,384.6 335.7,385.5 336.0,385.2 336.3,381.2 336.6,381.4 336.9,382.8 337.2,378.5 337.5,380.0 337.8,379.2 338.1,381.4 338.4,380.2 338.7,378.2 339.0,377.7 339.3,377.3 339.6,376.0 339.9,378.0 340.2,375.8 340.5,375.6 340.8,374.9 341.1,373.7 341.4,369.8 341.7,375.2 342.0,370.3 342.3,371.6 342.6,369.8 342.9,367.8 343.2,361.1 343.5,365.3 343.8,366.4 344.1,364.0 344.4,364.1 344.7,357.9 345.0,362.2 345.3,355.5 345.6,357.0 345.9,360.1 346.2,354.8 346.5,357.9 346.8,365.6 347.1,355.0 347.4,354.7 347.7,355.4 348.0,355.3 348.3,354.5 348.6,353.0 348.9,353.9 349.2,353.0 349.5,349.9 349.8,349.2 350.1,350.4 350.4,348.1 350.7,349.6 351.0,347.2 351.3,349.4 351.6,347.4 351.9,344.8 352.2,344.7 352.5,344.2 352.8,343.0 353.1,341.6 353.4,343.3 353.7,338.4 354.0,342.6 354.3,337.6 354.6,343.1 354.9,337.9 355.2,340.2 355.5,338.6 355.8,335.3 356.1,339.5 356.4,339.4 356.7,336.3 357.0,334.0 357.3,335.2 357.6,333.3 357.9,336.4 358.2,333.0 358.5,333.4 358.8,331.7 359.1,331.7 359.4,330.1 359.7,334.2 360.0,331.4 360.3,332.7 360.6,335.1 360.9,329.3 361.2,329.5 361.5,331.8 361.8,329.4 362.1,328.3 362.4,328.1 362.7,325.7 363.0,326.3 363.3,328.8 363.6,325.7 363.9,324.5 364.2,326.6 364.5,328.1 364.8,322.4 365.1,324.3 365.4,323.1 365.7,320.5 366.0,320.5 366.3,323.1 366.6,323.0 366.9,321.3 367.2,323.3 367.5,321.2 367.8,317.9 368.1,319.6 368.4,319.1 368.7,325.4 369.0,320.0 369.3,326.0 369.6,320.4 369.9,319.3 370.2,318.9 370.5,320.9 370.8,318.8 371.1,318.9 371.4,319.0 371.7,321.0 372.0,319.7 372.3,318.6 372.6,316.3 372.9,314.3 373.2,318.4 373.5,318.0 373.8,315.3 374.1,316.2 374.4,316.3 374.7,315.9 375.0,317.0 375.3,312.4 375.6,315.9 375.9,310.1 376.2,314.2 376.5,310.3 376.8,314.0 377.1,316.0 377.4,317.8 377.7,309.6 378.0,308.4 378.3,313.4 378.6,309.6 378.9,311.5 379.2,313.2 379.5,308.0 379.8,306.9 380.1,311.7 380.4,311.2 380.7,310.5 381.0,310.9 381.3,309.0 381.6,307.5 381.9,310.2 382.2,305.4 382.5,299.4 382.8,311.2 383.1,309.8 383.4,314.2 383.7,312.5 384.0,308.1 384.3,306.5 384.6,307.3 384.9,309.4 385.2,307.2 385.5,309.5 385.8,309.3 386.1,312.8 386.4,305.2 386.7,310.1 387.0,307.8 387.3,307.8 387.6,304.5 387.9,306.3 388.2,308.6 388.5,306.5 388.8,306.5 389.1,305.3 389.4,308.1 389.7,305.2 390.0,298.2 390.3,299.5 390.6,299.7 390.9,296.8 391.2,302.2 391.5,306.1 391.8,295.5 392.1,299.6 392.4,299.7 392.7,306.4 393.0,301.5 393.3,300.7 393.6,299.9 393.9,304.1 394.2,301.0 394.5,299.9 394.8,298.5 395.1,291.3 395.4,298.2 395.7,294.7 396.0,298.7 396.3,292.2 396.6,294.5 396.9,294.1 397.2,278.0 397.5,296.9 397.8,295.4 398.1,289.5 398.4,291.9 398.7,290.1 399.0,281.2 399.3,288.0 399.6,286.4 399.9,285.9 400.2,281.9 400.5,283.2 400.8,282.6 401.1,285.4 401.4,282.2 401.7,280.4 402.0,283.7 402.3,277.1 402.6,276.7 402.9,271.9 403.2,280.2 403.5,277.7 403.8,276.7 404.1,275.1 404.4,276.7 404.7,272.2 405.0,270.5 405.3,276.8 405.6,270.4 405.9,270.5 406.2,270.9 406.5,268.8 406.8,266.9 407.1,266.3 407.4,272.0 407.7,268.5 408.0,266.9 408.3,265.3 408.6,262.8 408.9,258.6 409.2,267.4 409.5,263.6 409.8,260.1 410.1,263.3 410.4,263.8 410.7,258.8 411.0,262.1 411.3,260.1 411.6,264.4 411.9,265.2 412.2,271.3 412.5,265.0 412.8,260.1 413.1,265.0 413.4,261.6 413.7,261.2 414.0,258.6 414.3,262.6 414.6,266.9 414.9,264.7 415.2,261.0 415.5,258.8 415.8,262.6 416.1,258.4 416.4,264.3 416.7,265.4 417.0,259.6 417.3,265.0 417.6,266.3 417.9,263.0 418.2,262.5 418.5,267.7 418.8,261.9 419.1,260.9 419.4,258.9 419.7,262.8 420.0,266.8 420.3,265.5 420.6,265.4 420.9,260.7 421.2,261.7 421.5,264.0 421.8,262.7 422.1,263.9 422.4,264.2 422.7,262.7 423.0,263.4 423.3,264.1 423.6,263.5 423.9,265.1 424.2,268.9 424.5,268.5 424.8,264.3 425.1,259.7 425.4,265.5 425.7,259.3 426.0,260.9 426.3,267.2 426.6,267.0 426.9,264.8 427.2,260.7 427.5,264.5 427.8,263.8 428.1,267.6 428.4,272.1 428.7,266.7 429.0,264.2 429.3,261.8 429.6,266.6 429.9,266.7 430.2,264.5 430.5,268.4 430.8,265.4 431.1,271.3 431.4,272.3 431.7,283.6 432.0,268.9 432.3,272.1 432.6,270.7 432.9,282.4 433.2,271.0 433.5,268.8 433.8,270.5 434.1,275.5 434.4,273.3 434.7,275.0 435.0,277.6 435.3,270.7 435.6,273.8 435.9,277.0 436.2,278.1 436.5,276.5 436.8,280.8 437.1,284.2 437.4,275.8 437.7,277.1 438.0,282.3 438.3,281.8 438.6,275.8 438.9,285.0 439.2,283.4 439.5,282.2 439.8,281.6 440.1,278.2 440.4,280.4 440.7,290.8 441.0,283.9 441.3,289.1 441.6,283.5 441.9,286.0 442.2,276.1 442.5,285.0 442.8,289.0 443.1,283.1 443.4,290.2 443.7,287.9 444.0,284.2 444.3,285.8 444.6,286.0 444.9,287.2 445.2,285.9 445.5,285.2 445.8,292.0 446.1,284.6 446.4,277.9 446.7,287.1 447.0,289.6 447.3,282.9 447.6,287.0 447.9,285.1 448.2,284.0 448.5,288.7 448.8,284.8 449.1,290.0 449.4,283.6 449.7,280.0 450.0,284.5 450.3,282.6 450.6,285.4 450.9,283.4 451.2,285.0 451.5,282.8 451.8,279.6 452.1,277.3 452.4,291.3 452.7,283.8 453.0,272.3 453.3,280.3 453.6,275.3 453.9,281.2 454.2,275.9 454.5,280.8 454.8,277.4 455.1,280.0 455.4,265.3 455.7,272.8 456.0,274.0 456.3,271.5 456.6,275.0 456.9,271.2 457.2,270.8 457.5,273.8 457.8,269.6 458.1,272.6 458.4,268.4 458.7,269.3 459.0,265.5 459.3,275.2 459.6,273.3 459.9,270.2 460.2,269.2 460.5,269.4 460.8,268.8 461.1,273.5 461.4,265.2 461.7,263.5 462.0,264.7 462.3,263.5 462.6,268.9 462.9,268.8 463.2,263.6 463.5,262.2 463.8,264.7 464.1,269.1 464.4,251.7 464.7,266.2 465.0,261.6 465.3,267.0 465.6,261.0 465.9,262.8 466.2,259.2 466.5,260.3 466.8,266.5 467.1,264.6 467.4,261.0 467.7,259.4 468.0,256.3 468.3,252.8 468.6,260.8 468.9,260.4 469.2,260.0 469.5,256.9 469.8,259.6 470.1,259.5 470.4,263.0 470.7,264.4 471.0,258.8 471.3,256.9 471.6,258.7 471.9,252.9 472.2,256.5 472.5,258.3 472.8,255.4 473.1,259.8 473.4,257.7 473.7,262.9 474.0,257.2 474.3,255.6 474.6,254.9 474.9,256.8 475.2,255.8 475.5,257.8 475.8,257.1 476.1,253.3 476.4,257.1 476.7,255.9 477.0,255.0 477.3,255.8 477.6,250.9 477.9,256.8 478.2,253.1 478.5,256.3 478.8,255.7 479.1,255.9 479.4,254.3 479.7,256.3 480.0,255.6 480.3,257.4 480.6,254.0 480.9,258.0 481.2,257.8 481.5,257.1 481.8,256.6 482.1,259.7 482.4,254.0 482.7,260.1 483.0,259.9 483.3,255.2 483.6,260.9 483.9,258.5 484.2,259.9 484.5,273.8 484.8,263.2 485.1,263.3 485.4,259.4 485.7,277.2 486.0,268.3 486.3,256.6 486.6,267.3 486.9,262.4 487.2,270.8 487.5,268.6 487.8,262.9 488.1,271.7 488.4,267.4 488.7,268.7 489.0,271.4 489.3,277.4 489.6,273.7 489.9,276.7 490.2,280.9 490.5,281.1 490.8,277.1 491.1,277.4 491.4,275.3 491.7,282.4 492.0,280.9 492.3,281.4 492.6,281.3 492.9,284.3 493.2,280.8 493.5,283.6 493.8,286.6 494.1,287.2 494.4,289.4 494.7,288.7 495.0,288.0 495.3,290.7 495.6,288.4 495.9,287.9 496.2,297.3 496.5,293.6 496.8,295.4 497.1,291.9 497.4,295.9 497.7,296.3 498.0,296.8 498.3,294.7 498.6,299.9 498.9,303.4 499.2,303.2 499.5,302.1 499.8,300.1 500.1,306.7 500.4,300.3 500.7,306.7 501.0,309.0 501.3,310.2 501.6,313.2 501.9,312.9 502.2,312.1 502.5,313.3 502.8,315.5 503.1,313.9 503.4,316.1 503.7,319.2 504.0,322.5 504.3,319.4 504.6,320.6 504.9,321.8 505.2,324.7 505.5,322.6 505.8,326.3 506.1,322.0 506.4,324.2 506.7,324.8 507.0,327.5 507.3,328.6 507.6,323.9 507.9,325.6 508.2,328.7 508.5,329.1 508.8,325.9 509.1,331.6 509.4,332.1 509.7,331.5 510.0,330.1 510.3,333.5 510.6,331.5 510.9,334.7 511.2,331.2 511.5,331.8 511.8,334.4 512.1,333.1 512.4,336.3 512.7,336.0 513.0,334.2 513.3,336.7 513.6,336.3 513.9,332.8 514.2,336.5 514.5,337.2 514.8,340.8 515.1,343.2 515.4,343.1 515.7,337.3 516.0,340.8 516.3,343.3 516.6,340.5 516.9,339.2 517.2,341.7 517.5,342.7 517.8,340.6 518.1,335.0 518.4,340.1 518.7,344.4 519.0,343.7 519.3,343.4 519.6,344.4 519.9,345.5 520.2,344.9 520.5,345.8 520.8,343.5 521.1,343.9 521.4,343.9 521.7,348.2 522.0,346.4 522.3,345.4 522.6,346.5 522.9,347.1 523.2,349.2 523.5,345.3 523.8,346.8 524.1,349.9 524.4,354.1 524.7,351.6 525.0,355.4 525.3,351.8 525.6,354.7 525.9,350.8 526.2,351.0 526.5,354.4 526.8,353.5 527.1,354.3 527.4,352.6 527.7,357.5 528.0,357.6 528.3,356.0 528.6,356.6 528.9,352.5 529.2,357.5 529.5,356.4 529.8,358.0 530.1,358.9 530.4,357.9 530.7,353.3 531.0,360.7 531.3,359.5 531.6,361.0 531.9,361.3 532.2,362.5 532.5,359.8 532.8,363.6 533.1,365.9 533.4,368.5 533.7,371.5 534.0,369.5 534.3,368.0 534.6,371.1 534.9,372.2 535.2,374.8 535.5,377.5 535.8,377.7 536.1,383.3 536.4,383.5 536.7,388.4 537.0,390.6 537.3,393.1 537.6,397.6 537.9,398.2 538.2,400.8 538.5,402.9 538.8,404.7 539.1,407.5 539.4,409.0 539.7,410.2 540.0,411.4 540.3,411.7 540.6,412.9 540.9,412.3 541.2,412.4 541.5,412.4 541.8,413.7 542.1,412.6 542.4,412.6 542.7,412.6 543.0,412.9 543.3,414.2 543.6,413.1 543.9,413.0 544.2,413.4 544.5,414.7 544.8,410.9 545.1,413.0 545.4,413.5 545.7,413.2 546.0,413.2 546.3,413.8 546.6,412.8 546.9,413.1" fill="none" stroke="#ff0000" stroke-width="0.9" stroke-linejoin="miter" stroke-miterlimit="4"/>
<path d="M105.6,143.5H128.3" stroke="#3535e0" stroke-width="1.1"/>
<path d="M105.6,156.0H128.3" stroke="#ee4444" stroke-width="1.1"/>
<text x="131.6" y="147.1" class="L">apple healthy surface</text>
<text x="131.6" y="159.6" class="L">apple rotten surface</text>
<path d="M378.2,146.0H400.5" stroke="#3535e0" stroke-width="1.1"/>
<path d="M378.2,159.1H400.5" stroke="#ee4444" stroke-width="1.1"/>
<text x="404.0" y="149.6" class="L">apple healthy surface</text>
<text x="404.0" y="162.7" class="L">apple rotten surface</text>
<path d="M42.0,253.0H64.0" stroke="#3535e0" stroke-width="1.1"/>
<path d="M42.0,265.0H64.0" stroke="#ee4444" stroke-width="1.1"/>
<text x="67.3" y="256.6" class="L">apple healthy pulp</text>
<text x="67.3" y="268.6" class="L">apple rotten pulp</text>
<path d="M365.6,370.5H388.4" stroke="#3535e0" stroke-width="1.1"/>
<path d="M365.6,382.9H388.4" stroke="#ee4444" stroke-width="1.1"/>
<text x="391.6" y="374.1" class="L" style="font-size:10.35px">apple healthy pulp</text>
<text x="391.6" y="386.5" class="L" style="font-size:10.35px">apple rotten pulp</text>
</svg>
</body></html>
